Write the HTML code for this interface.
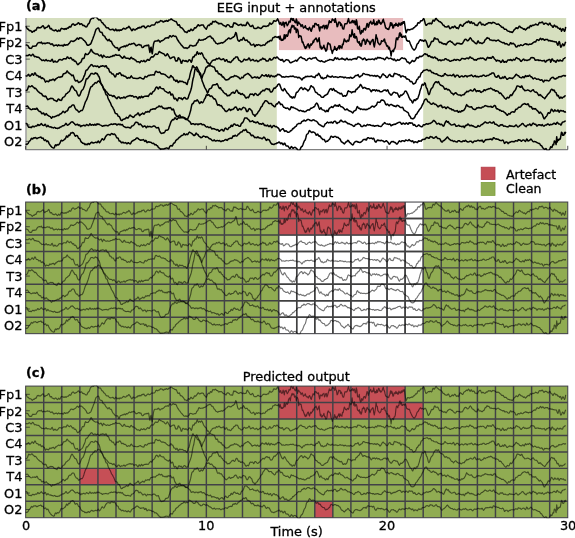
<!DOCTYPE html>
<html lang="en"><head><meta charset="utf-8"><title>EEG artefact detection figure</title>
<style>html,body{margin:0;padding:0;background:#fff}body{width:575px;height:538px;overflow:hidden}svg{display:block}text{stroke:#000;stroke-width:.3px}</style>
</head><body>
<svg width="575" height="538" viewBox="0 0 575 538" font-family="'DejaVu Sans','Liberation Sans',sans-serif" font-size="12.9px" fill="#000">
<rect width="575" height="538" fill="#fff"/>
<defs>
<clipPath id="cp"><rect x="25.15" y="-0.6" width="543.3000000000001" height="132.79999999999998"/></clipPath>
<clipPath id="cw"><rect x="279.23" y="235.55" width="143.36" height="97.50"/><rect x="405.72" y="202.05" width="16.87" height="33.90"/></clipPath>
<g id="tr" fill="none" stroke-linejoin="round">
<path d="M25.6,8.8 26.2,8.6 26.9,10.1 27.5,11.1 28.1,11.1 28.7,11.7 29.3,12.5 29.9,12.7 30.5,12.6 31.1,12.9 31.7,13.8 32.3,14.3 32.9,13.6 33.5,13.1 34.1,13.4 34.7,12.7 35.3,12.2 35.9,12.4 36.5,11.3 37.1,9.9 37.7,9.4 38.3,9.3 38.9,9.9 39.5,9.8 40.1,9.7 40.7,9.7 41.3,9.1 41.9,8.6 42.5,8.0 43.1,7.8 43.7,8.6 44.3,10.2 44.9,10.6 45.5,9.8 46.1,9.4 46.7,9.3 47.3,9.1 47.9,8.3 48.5,7.4 49.1,7.8 49.7,9.6 50.3,10.9 50.9,10.4 51.5,10.5 52.1,11.8 52.7,12.1 53.3,12.3 53.9,12.7 54.5,12.7 55.1,12.1 55.7,11.8 56.3,12.4 56.9,13.1 57.5,13.5 58.1,12.9 58.7,12.1 59.3,12.9 59.9,13.2 60.5,11.9 61.1,10.7 61.7,10.3 62.3,10.6 62.9,10.8 63.5,11.0 64.1,11.4 64.7,10.8 65.3,10.6 65.9,11.2 66.5,11.0 67.1,10.1 67.7,10.1 68.3,10.2 68.9,9.3 69.5,8.5 70.1,9.1 70.7,9.1 71.3,7.9 71.9,6.7 72.5,6.1 73.1,5.8 73.7,6.1 74.3,7.0 74.9,7.3 75.5,6.8 76.1,6.5 76.7,6.3 77.3,5.8 77.9,5.2 78.5,4.7 79.1,5.3 79.7,6.4 80.3,6.3 80.9,5.7 81.5,5.8 82.1,6.4 82.7,7.4 83.3,7.5 83.9,7.3 84.5,7.8 85.1,8.3 85.7,8.8 86.3,8.9 86.9,8.6 87.5,7.3 88.1,6.2 88.7,5.7 89.3,5.0 89.9,3.3 90.5,1.5 91.1,1.0 91.7,0.7 92.3,-0.0 92.9,0.0 93.5,0.4 94.1,-0.6 94.7,-1.3 95.3,-0.9 95.9,-0.9 96.5,-0.7 97.1,0.0 97.7,0.7 98.3,1.3 98.9,2.0 99.5,1.9 100.1,1.7 100.7,2.3 101.3,3.5 101.9,4.6 102.5,4.8 103.1,5.4 103.7,6.6 104.3,6.9 104.9,7.3 105.5,8.5 106.1,9.3 106.7,9.8 107.3,9.9 107.9,9.7 108.5,10.1 109.1,11.0 109.7,11.5 110.3,11.7 110.9,11.7 111.5,11.6 112.1,11.6 112.7,11.2 113.3,11.5 113.9,12.3 114.5,12.7 115.1,12.1 115.7,11.1 116.3,11.8 116.9,12.8 117.5,12.5 118.1,11.9 118.7,12.6 119.3,12.8 119.9,11.8 120.5,12.0 121.1,12.3 121.7,11.8 122.3,11.4 122.9,10.8 123.5,10.3 124.1,10.5 124.7,10.8 125.3,11.1 125.9,10.9 126.5,10.0 127.1,9.7 127.7,9.8 128.3,9.0 128.9,8.4 129.5,9.1 130.1,10.0 130.7,10.9 131.3,12.0 131.9,12.7 132.5,12.1 133.1,10.9 133.7,11.1 134.3,11.8 134.9,11.9 135.5,11.8 136.1,11.2 136.7,10.7 137.3,10.8 137.9,9.8 138.5,9.6 139.1,10.1 139.7,9.3 140.3,9.4 140.9,9.8 141.5,8.8 142.1,8.2 142.7,8.6 143.3,8.1 143.9,7.9 144.5,9.0 145.1,9.8 145.7,9.9 146.3,9.4 146.9,8.7 147.5,8.1 148.1,7.8 148.7,8.2 149.3,8.6 149.9,8.5 150.5,8.1 151.1,7.4 151.7,7.0 152.3,7.0 152.9,7.0 153.5,6.9 154.1,6.9 154.7,6.7 155.3,5.7 155.9,4.5 156.5,4.1 157.1,4.5 157.7,4.7 158.3,4.1 158.9,4.0 159.5,3.9 160.1,3.1 160.7,2.6 161.3,2.9 161.9,2.9 162.5,3.3 163.1,4.1 163.7,4.1 164.3,3.3 164.9,3.0 165.5,3.3 166.1,2.7 166.7,2.4 167.3,3.2 167.9,3.3 168.5,2.4 169.1,1.9 169.7,2.0 170.3,1.6 170.9,1.1 171.5,1.0 172.1,1.6 172.7,2.1 173.3,2.4 173.9,2.7 174.5,3.1 175.1,3.5 175.7,3.4 176.3,3.7 176.9,5.0 177.5,6.5 178.1,7.4 178.7,7.1 179.3,6.7 179.9,8.1 180.5,9.6 181.1,9.6 181.7,9.8 182.3,10.4 182.9,11.0 183.5,11.8 184.1,12.7 184.7,13.8 185.3,13.9 185.9,13.8 186.5,14.5 187.1,14.6 187.7,13.7 188.3,12.7 188.9,12.5 189.5,13.2 190.1,12.7 190.7,11.3 191.3,11.2 191.9,12.1 192.5,12.6 193.1,12.2 193.7,11.5 194.3,10.2 194.9,9.7 195.5,10.1 196.1,9.6 196.7,8.8 197.3,8.1 197.9,6.9 198.5,6.7 199.1,7.7 199.7,7.9 200.3,7.5 200.9,7.3 201.5,6.9 202.1,7.0 202.7,7.0 203.3,7.1 203.9,8.4 204.5,9.5 205.1,9.9 205.7,10.7 206.3,11.2 206.9,9.8 207.5,8.3 208.1,7.4 208.7,7.0 209.3,7.5 209.9,6.8 210.5,5.5 211.1,5.7 211.7,6.2 212.3,4.6 212.9,3.4 213.5,3.7 214.1,4.0 214.7,3.7 215.3,3.1 215.9,3.4 216.5,4.4 217.1,4.4 217.7,4.4 218.3,5.6 218.9,6.0 219.5,5.4 220.1,5.4 220.7,5.7 221.3,5.5 221.9,5.8 222.5,6.7 223.1,7.2 223.7,7.6 224.3,7.7 224.9,7.9 225.5,8.6 226.1,8.8 226.7,7.5 227.3,6.7 227.9,6.8 228.5,6.9 229.1,7.3 229.7,8.2 230.3,8.9 230.9,8.9 231.5,8.7 232.1,9.3 232.7,8.7 233.3,6.2 233.9,4.7 234.5,5.3 235.1,5.5 235.7,5.1 236.3,5.9 236.9,6.3 237.5,6.4 238.1,7.2 238.7,7.4 239.3,7.0 239.9,6.8 240.5,6.4 241.1,6.3 241.7,7.0 242.3,7.6 242.9,7.1 243.5,7.0 244.1,7.6 244.7,7.3 245.3,7.4 245.9,7.4 246.5,5.9 247.1,4.2 247.7,4.3 248.3,5.5 248.9,6.2 249.5,7.1 250.1,8.1 250.7,8.5 251.3,8.5 251.9,7.8 252.5,7.2 253.1,8.2 253.7,9.7 254.3,10.4 254.9,10.6 255.5,10.5 256.1,10.6 256.7,10.4 257.3,9.7 257.9,9.2 258.5,9.3 259.1,10.0 259.7,10.1 260.3,10.2 260.9,10.6 261.5,10.1 262.1,9.4 262.7,8.7 263.3,8.1 263.9,8.4 264.5,8.2 265.1,8.0 265.7,8.5 266.3,8.5 266.9,8.1 267.5,7.8 268.1,7.9 268.7,7.4 269.3,5.8 269.9,4.9 270.5,5.7 271.1,6.3 271.7,5.8 272.3,5.4 272.9,4.7 273.5,3.2 274.1,2.7 274.7,3.0 275.3,3.2 275.9,3.0 276.5,2.8 277.1,1.6 277.7,0.7 278.3,2.2 278.9,3.9 279.5,6.1 280.1,5.8 280.7,4.5 281.3,6.7 281.9,7.3 282.5,6.6 283.1,3.9 283.7,6.0 284.3,8.9 284.9,4.7 285.5,5.1 286.1,4.2 286.7,6.1 287.3,7.6 287.9,6.7 288.5,5.5 289.1,3.3 289.7,4.0 290.3,3.9 290.9,0.5 291.5,0.2 292.1,1.1 292.7,2.4 293.3,0.6 293.9,2.5 294.5,3.1 295.1,4.5 295.7,4.7 296.3,1.1 296.9,2.7 297.5,7.3 298.1,4.8 298.7,4.0 299.3,5.6 299.9,5.9 300.5,6.5 301.1,8.5 301.7,7.3 302.3,6.7 302.9,8.5 303.5,10.1 304.1,9.3 304.7,9.2 305.3,7.7 305.9,9.8 306.5,10.6 307.1,11.0 307.7,10.7 308.3,12.0 308.9,10.5 309.5,9.4 310.1,10.5 310.7,12.6 311.3,13.2 311.9,10.9 312.5,9.6 313.1,7.6 313.7,8.4 314.3,8.9 314.9,5.4 315.5,5.7 316.1,5.6 316.7,6.8 317.3,6.9 317.9,7.5 318.5,6.7 319.1,10.4 319.7,12.9 320.3,9.1 320.9,8.8 321.5,9.6 322.1,9.9 322.7,8.0 323.3,7.9 323.9,7.2 324.5,10.8 325.1,9.8 325.7,7.6 326.3,7.3 326.9,10.8 327.5,9.7 328.1,7.2 328.7,5.5 329.3,2.7 329.9,4.4 330.5,3.8 331.1,4.5 331.7,3.0 332.3,0.9 332.9,2.1 333.5,2.0 334.1,2.0 334.7,4.3 335.3,0.5 335.9,3.7 336.5,4.7 337.1,8.7 337.7,8.1 338.3,5.9 338.9,3.9 339.5,4.6 340.1,4.4 340.7,7.5 341.3,6.0 341.9,7.4 342.5,10.1 343.1,11.0 343.7,11.1 344.3,8.4 344.9,5.8 345.5,5.7 346.1,5.8 346.7,5.8 347.3,4.8 347.9,2.6 348.5,0.4 349.1,3.2 349.7,5.0 350.3,4.7 350.9,4.9 351.5,3.2 352.1,4.0 352.7,2.4 353.3,4.7 353.9,3.1 354.5,2.9 355.1,6.2 355.7,6.8 356.3,1.8 356.9,3.8 357.5,10.3 358.1,11.1 358.7,10.5 359.3,8.2 359.9,13.4 360.5,15.9 361.1,15.6 361.7,12.4 362.3,14.0 362.9,14.1 363.5,11.3 364.1,10.5 364.7,10.4 365.3,12.1 365.9,10.6 366.5,8.0 367.1,5.4 367.7,6.3 368.3,9.3 368.9,7.7 369.5,4.7 370.1,4.6 370.7,3.2 371.3,5.4 371.9,6.1 372.5,4.7 373.1,5.4 373.7,1.8 374.3,5.0 374.9,6.9 375.5,5.5 376.1,6.8 376.7,3.8 377.3,6.4 377.9,5.1 378.5,2.2 379.1,2.5 379.7,5.0 380.3,4.6 380.9,6.2 381.5,5.2 382.1,4.5 382.7,2.5 383.3,1.2 383.9,4.0 384.5,5.0 385.1,7.8 385.7,10.1 386.3,10.1 386.9,10.7 387.5,11.2 388.1,11.0 388.7,11.5 389.3,9.4 389.9,8.4 390.5,4.7 391.1,7.3 391.7,5.0 392.3,6.7 392.9,10.0 393.5,9.8 394.1,7.0 394.7,6.7 395.3,7.6 395.9,5.2 396.5,7.3 397.1,6.3 397.7,8.1 398.3,8.0 398.9,5.0 399.5,6.8 400.1,6.1 400.7,7.1 401.3,4.7 401.9,6.5 402.5,5.3 403.1,3.8 403.7,5.2 404.3,3.6 404.9,7.5 405.5,11.5 406.1,14.7 406.7,13.5 407.3,11.9 407.9,11.4 408.5,11.7 409.1,12.0 409.7,11.8 410.3,11.5 410.9,11.4 411.5,11.0 412.1,11.0 412.7,11.0 413.3,10.1 413.9,9.7 414.5,9.6 415.1,8.7 415.7,7.8 416.3,7.9 416.9,7.5 417.5,5.8 418.1,4.6 418.7,4.8 419.3,5.1 419.9,4.4 420.5,3.2 421.1,2.7 421.7,2.9 422.3,2.6 422.9,1.5 423.5,0.6 424.1,1.1 424.7,3.4 425.3,5.8 425.9,7.3 426.5,7.2 427.1,6.5 427.7,6.0 428.3,5.5 428.9,5.5 429.5,5.7 430.1,5.2 430.7,5.2 431.3,5.9 431.9,5.5 432.5,3.5 433.1,2.1 433.7,2.6 434.3,3.1 434.9,2.3 435.5,0.9 436.1,0.3 436.7,1.1 437.3,2.0 437.9,2.3 438.5,2.9 439.1,3.6 439.7,3.8 440.3,3.8 440.9,4.4 441.5,4.9 442.1,5.5 442.7,6.8 443.3,7.2 443.9,7.2 444.5,8.3 445.1,8.8 445.7,8.7 446.3,9.1 446.9,9.1 447.5,8.7 448.1,7.9 448.7,8.0 449.3,9.7 449.9,10.7 450.5,10.5 451.1,10.1 451.7,9.3 452.3,8.7 452.9,9.5 453.5,9.7 454.1,8.6 454.7,8.1 455.3,8.4 455.9,9.6 456.5,10.3 457.1,9.7 457.7,10.0 458.3,10.6 458.9,9.5 459.5,7.8 460.1,6.7 460.7,6.6 461.3,7.5 461.9,7.9 462.5,8.3 463.1,7.9 463.7,6.4 464.3,5.7 464.9,5.5 465.5,5.1 466.1,4.3 466.7,4.0 467.3,4.5 467.9,3.9 468.5,3.0 469.1,3.6 469.7,4.9 470.3,5.2 470.9,3.9 471.5,3.7 472.1,5.2 472.7,5.5 473.3,5.0 473.9,5.0 474.5,5.8 475.1,7.1 475.7,7.1 476.3,6.9 476.9,7.6 477.5,7.5 478.1,6.2 478.7,5.1 479.3,4.7 479.9,4.2 480.5,4.3 481.1,5.6 481.7,6.8 482.3,6.6 482.9,6.1 483.5,6.4 484.1,7.1 484.7,7.2 485.3,7.0 485.9,6.4 486.5,5.8 487.1,6.0 487.7,5.6 488.3,4.8 488.9,4.6 489.5,4.9 490.1,4.6 490.7,4.8 491.3,5.5 491.9,5.3 492.5,4.4 493.1,4.3 493.7,4.6 494.3,4.7 494.9,5.0 495.5,5.5 496.1,5.9 496.7,6.3 497.3,6.3 497.9,6.0 498.5,6.1 499.1,6.6 499.7,7.3 500.3,7.6 500.9,8.1 501.5,9.1 502.1,9.5 502.7,9.2 503.3,9.5 503.9,10.6 504.5,11.3 505.1,11.3 505.7,11.2 506.3,11.4 506.9,12.2 507.5,12.9 508.1,13.2 508.7,13.2 509.3,13.4 509.9,13.9 510.5,13.9 511.1,13.8 511.7,14.3 512.3,14.4 512.9,13.8 513.5,12.9 514.1,11.8 514.7,11.3 515.3,10.9 515.9,10.0 516.5,9.8 517.1,10.3 517.7,10.5 518.3,9.8 518.9,8.7 519.5,8.2 520.1,8.7 520.7,9.4 521.3,9.8 521.9,9.9 522.5,10.1 523.1,10.9 523.7,11.3 524.3,10.8 524.9,11.2 525.5,12.0 526.1,11.5 526.7,10.7 527.3,10.2 527.9,9.4 528.5,9.2 529.1,9.9 529.7,9.0 530.3,7.5 530.9,8.0 531.5,8.4 532.1,7.3 532.7,7.2 533.3,7.5 533.9,7.1 534.5,7.0 535.1,6.6 535.7,6.0 536.3,6.5 536.9,6.7 537.5,7.0 538.1,7.0 538.7,5.7 539.3,4.6 539.9,4.5 540.5,4.8 541.1,4.8 541.7,4.2 542.3,4.0 542.9,4.7 543.5,6.0 544.1,6.2 544.7,5.5 545.3,5.3 545.9,5.3 546.5,5.5 547.1,5.8 547.7,6.4 548.3,6.9 548.9,6.3 549.5,5.2 550.1,5.3 550.7,6.9 551.3,7.3 551.9,7.6 552.5,8.9 553.1,9.3 553.7,8.1 554.3,7.1 554.9,7.5 555.5,8.7 556.1,8.8 556.7,8.3 557.3,9.0 557.9,10.0 558.5,10.0 559.1,10.4 559.7,11.2 560.3,10.3 560.9,11.1 561.5,13.2 562.1,12.3 562.7,10.8 563.3,11.0 563.9,12.1 564.5,13.3 565.1,12.1 565.7,8.8"/>
<path d="M25.6,26.9 26.2,27.1 26.9,27.1 27.5,27.4 28.1,27.9 28.7,29.0 29.3,30.0 29.9,30.3 30.5,30.2 31.1,30.4 31.7,30.0 32.3,28.7 32.9,28.1 33.5,28.3 34.1,28.3 34.7,28.1 35.3,28.1 35.9,28.0 36.5,27.2 37.1,26.1 37.7,25.2 38.3,24.9 38.9,24.6 39.5,24.5 40.1,24.9 40.7,24.7 41.3,24.1 41.9,25.1 42.5,25.8 43.1,25.4 43.7,25.2 44.3,25.2 44.9,25.7 45.5,25.6 46.1,25.2 46.7,25.1 47.3,24.8 47.9,25.0 48.5,25.1 49.1,24.9 49.7,25.3 50.3,26.0 50.9,26.5 51.5,26.2 52.1,25.7 52.7,26.3 53.3,27.4 53.9,27.9 54.5,27.6 55.1,27.2 55.7,27.3 56.3,27.0 56.9,27.3 57.5,27.9 58.1,27.3 58.7,26.8 59.3,27.5 59.9,27.5 60.5,27.4 61.1,27.6 61.7,27.3 62.3,27.3 62.9,28.0 63.5,27.9 64.1,26.6 64.7,26.5 65.3,27.3 65.9,27.3 66.5,26.7 67.1,26.7 67.7,27.0 68.3,26.3 68.9,25.6 69.5,25.1 70.1,24.2 70.7,23.1 71.3,22.9 71.9,23.1 72.5,23.3 73.1,23.5 73.7,23.3 74.3,22.8 74.9,22.5 75.5,22.2 76.1,21.4 76.7,20.7 77.3,20.1 77.9,20.4 78.5,21.2 79.1,20.6 79.7,19.7 80.3,20.0 80.9,20.1 81.5,20.0 82.1,20.6 82.7,21.0 83.3,21.7 83.9,22.4 84.5,22.7 85.1,23.6 85.7,24.2 86.3,25.2 86.9,26.7 87.5,27.2 88.1,27.1 88.7,27.2 89.3,26.9 89.9,26.3 90.5,26.2 91.1,25.2 91.7,23.4 92.3,22.0 92.9,20.5 93.5,18.7 94.1,17.3 94.7,15.5 95.3,13.4 95.9,11.7 96.5,10.9 97.1,10.6 97.7,10.2 98.3,10.0 98.9,10.8 99.5,12.9 100.1,13.8 100.7,14.2 101.3,14.4 101.9,14.3 102.5,15.7 103.1,17.4 103.7,17.7 104.3,17.9 104.9,18.6 105.5,19.9 106.1,20.8 106.7,21.3 107.3,22.2 107.9,22.8 108.5,22.1 109.1,21.4 109.7,22.4 110.3,23.2 110.9,23.1 111.5,23.6 112.1,25.1 112.7,26.4 113.3,27.2 113.9,27.8 114.5,28.6 115.1,29.3 115.7,29.6 116.3,29.9 116.9,29.6 117.5,29.7 118.1,30.8 118.7,32.4 119.3,32.3 119.9,30.4 120.5,29.4 121.1,29.4 121.7,29.1 122.3,28.7 122.9,28.8 123.5,28.7 124.1,27.9 124.7,28.0 125.3,28.8 125.9,28.0 126.5,27.4 127.1,27.9 127.7,27.6 128.3,26.9 128.9,26.4 129.5,26.0 130.1,26.2 130.7,26.5 131.3,26.1 131.9,25.6 132.5,25.8 133.1,25.6 133.7,25.2 134.3,25.7 134.9,26.2 135.5,27.0 136.1,27.7 136.7,27.5 137.3,27.3 137.9,27.0 138.5,26.5 139.1,26.4 139.7,27.0 140.3,27.0 140.9,26.9 141.5,28.3 142.1,29.5 142.7,29.6 143.3,29.4 143.9,28.5 144.5,27.9 145.1,28.0 145.7,27.6 146.3,27.3 146.9,27.8 147.5,27.5 148.1,27.0 148.7,27.2 149.3,31.4 149.9,34.4 150.5,30.1 151.1,29.2 151.7,33.6 152.3,35.7 152.9,30.8 153.5,26.3 154.1,24.1 154.7,23.3 155.3,23.2 155.9,23.1 156.5,23.1 157.1,23.1 157.7,22.6 158.3,22.1 158.9,22.5 159.5,23.5 160.1,24.1 160.7,23.4 161.3,22.7 161.9,22.8 162.5,22.6 163.1,22.2 163.7,21.8 164.3,21.2 164.9,20.6 165.5,20.0 166.1,20.1 166.7,20.0 167.3,19.6 167.9,20.0 168.5,20.1 169.1,18.9 169.7,17.8 170.3,17.7 170.9,18.5 171.5,19.0 172.1,18.5 172.7,17.8 173.3,17.5 173.9,18.0 174.5,18.4 175.1,18.2 175.7,18.3 176.3,19.0 176.9,20.4 177.5,21.7 178.1,22.5 178.7,23.5 179.3,24.4 179.9,25.1 180.5,25.9 181.1,26.7 181.7,27.4 182.3,28.0 182.9,28.7 183.5,29.4 184.1,30.0 184.7,30.1 185.3,30.0 185.9,29.8 186.5,30.0 187.1,30.5 187.7,30.0 188.3,29.6 188.9,29.5 189.5,28.1 190.1,27.3 190.7,27.4 191.3,27.4 191.9,27.7 192.5,28.0 193.1,28.0 193.7,27.9 194.3,27.7 194.9,27.5 195.5,27.6 196.1,27.0 196.7,25.4 197.3,24.9 197.9,24.2 198.5,22.3 199.1,21.4 199.7,22.0 200.3,22.2 200.9,22.2 201.5,22.1 202.1,21.9 202.7,22.0 203.3,21.9 203.9,21.4 204.5,21.2 205.1,21.2 205.7,20.6 206.3,20.3 206.9,19.9 207.5,19.1 208.1,18.8 208.7,18.8 209.3,18.4 209.9,18.1 210.5,18.2 211.1,19.2 211.7,20.2 212.3,20.1 212.9,20.4 213.5,21.7 214.1,22.8 214.7,23.2 215.3,24.1 215.9,25.2 216.5,25.4 217.1,25.6 217.7,26.1 218.3,25.7 218.9,25.3 219.5,25.4 220.1,25.3 220.7,25.0 221.3,24.6 221.9,24.8 222.5,25.1 223.1,24.6 223.7,24.1 224.3,23.8 224.9,23.4 225.5,22.7 226.1,22.0 226.7,21.7 227.3,21.3 227.9,20.5 228.5,20.1 229.1,20.1 229.7,20.7 230.3,20.9 230.9,20.5 231.5,20.5 232.1,19.8 232.7,19.2 233.3,19.2 233.9,18.6 234.5,18.2 235.1,16.6 235.7,14.5 236.3,15.0 236.9,18.0 237.5,20.9 238.1,22.5 238.7,23.0 239.3,23.2 239.9,22.6 240.5,21.8 241.1,21.5 241.7,22.1 242.3,22.1 242.9,20.5 243.5,19.5 244.1,20.4 244.7,21.8 245.3,22.3 245.9,22.5 246.5,22.1 247.1,22.1 247.7,23.2 248.3,24.0 248.9,24.0 249.5,24.3 250.1,25.5 250.7,26.5 251.3,27.1 251.9,27.1 252.5,26.9 253.1,26.5 253.7,26.1 254.3,27.3 254.9,28.6 255.5,28.1 256.1,26.9 256.7,26.7 257.3,27.3 257.9,26.9 258.5,26.6 259.1,26.9 259.7,26.9 260.3,27.5 260.9,27.8 261.5,27.6 262.1,27.6 262.7,27.2 263.3,26.8 263.9,27.1 264.5,27.2 265.1,26.8 265.7,25.8 266.3,25.1 266.9,25.1 267.5,24.1 268.1,23.4 268.7,23.7 269.3,23.5 269.9,22.7 270.5,22.3 271.1,22.7 271.7,22.7 272.3,21.3 272.9,19.8 273.5,19.6 274.1,19.5 274.7,18.8 275.3,18.5 275.9,19.0 276.5,19.1 277.1,19.5 277.7,19.3 278.3,18.5 278.9,19.3 279.5,21.0 280.1,18.1 280.7,21.0 281.3,22.4 281.9,21.2 282.5,22.3 283.1,21.8 283.7,20.6 284.3,16.7 284.9,20.8 285.5,19.5 286.1,16.7 286.7,17.5 287.3,18.3 287.9,17.2 288.5,13.6 289.1,12.3 289.7,11.7 290.3,14.8 290.9,10.8 291.5,9.0 292.1,7.3 292.7,8.9 293.3,7.9 293.9,7.8 294.5,11.0 295.1,10.1 295.7,9.9 296.3,14.6 296.9,11.2 297.5,11.5 298.1,13.3 298.7,19.5 299.3,17.8 299.9,17.6 300.5,18.4 301.1,18.3 301.7,21.5 302.3,24.4 302.9,24.0 303.5,26.0 304.1,27.4 304.7,29.2 305.3,30.5 305.9,28.8 306.5,29.9 307.1,27.6 307.7,26.3 308.3,25.9 308.9,28.4 309.5,29.9 310.1,27.6 310.7,26.1 311.3,27.1 311.9,25.8 312.5,25.7 313.1,23.1 313.7,24.1 314.3,21.9 314.9,21.4 315.5,20.9 316.1,20.0 316.7,21.8 317.3,23.8 317.9,23.2 318.5,21.2 319.1,19.8 319.7,25.1 320.3,29.7 320.9,28.2 321.5,30.9 322.1,30.8 322.7,29.5 323.3,29.1 323.9,27.3 324.5,30.5 325.1,30.3 325.7,33.1 326.3,32.8 326.9,31.7 327.5,26.5 328.1,24.8 328.7,25.8 329.3,26.1 329.9,26.0 330.5,28.1 331.1,31.7 331.7,32.6 332.3,35.4 332.9,33.1 333.5,31.9 334.1,31.6 334.7,28.5 335.3,31.3 335.9,30.4 336.5,32.3 337.1,31.7 337.7,29.9 338.3,29.2 338.9,27.7 339.5,30.7 340.1,27.7 340.7,29.5 341.3,29.0 341.9,30.2 342.5,26.2 343.1,26.6 343.7,23.7 344.3,20.9 344.9,22.0 345.5,23.4 346.1,23.5 346.7,23.9 347.3,22.4 347.9,22.2 348.5,23.2 349.1,21.5 349.7,16.8 350.3,17.5 350.9,18.6 351.5,17.6 352.1,11.8 352.7,16.2 353.3,16.7 353.9,19.2 354.5,15.8 355.1,20.2 355.7,18.6 356.3,18.4 356.9,20.3 357.5,24.0 358.1,24.1 358.7,25.0 359.3,23.6 359.9,27.0 360.5,25.8 361.1,28.2 361.7,26.7 362.3,22.5 362.9,22.6 363.5,21.0 364.1,22.7 364.7,22.0 365.3,26.3 365.9,25.3 366.5,23.5 367.1,21.3 367.7,22.4 368.3,23.3 368.9,23.2 369.5,24.9 370.1,26.6 370.7,24.6 371.3,23.1 371.9,22.8 372.5,21.6 373.1,21.6 373.7,26.6 374.3,28.9 374.9,25.6 375.5,22.2 376.1,16.7 376.7,20.2 377.3,20.3 377.9,24.7 378.5,25.1 379.1,26.2 379.7,26.8 380.3,26.2 380.9,25.4 381.5,22.7 382.1,23.2 382.7,23.4 383.3,23.0 383.9,21.8 384.5,21.0 385.1,24.5 385.7,24.6 386.3,26.8 386.9,28.1 387.5,27.5 388.1,28.9 388.7,30.9 389.3,29.3 389.9,31.8 390.5,33.4 391.1,37.9 391.7,33.6 392.3,32.7 392.9,32.4 393.5,33.6 394.1,31.0 394.7,30.6 395.3,29.0 395.9,22.9 396.5,19.9 397.1,20.2 397.7,21.7 398.3,19.4 398.9,19.3 399.5,15.4 400.1,14.8 400.7,18.1 401.3,16.2 401.9,19.3 402.5,19.3 403.1,18.3 403.7,18.3 404.3,19.2 404.9,18.2 405.5,17.9 406.1,20.3 406.7,22.6 407.3,22.4 407.9,23.2 408.5,23.3 409.1,22.9 409.7,24.0 410.3,25.8 410.9,27.2 411.5,28.4 412.1,29.8 412.7,30.7 413.3,31.3 413.9,31.9 414.5,31.9 415.1,31.1 415.7,30.1 416.3,28.6 416.9,26.7 417.5,25.7 418.1,25.3 418.7,24.1 419.3,23.0 419.9,22.2 420.5,21.7 421.1,22.2 421.7,22.8 422.3,22.3 422.9,22.4 423.5,23.3 424.1,23.0 424.7,22.1 425.3,22.1 425.9,22.9 426.5,24.3 427.1,26.1 427.7,28.1 428.3,29.3 428.9,28.9 429.5,27.8 430.1,26.9 430.7,25.5 431.3,23.8 431.9,23.3 432.5,23.5 433.1,23.3 433.7,22.2 434.3,20.2 434.9,19.8 435.5,20.9 436.1,21.1 436.7,21.1 437.3,20.9 437.9,21.1 438.5,22.5 439.1,23.7 439.7,24.5 440.3,24.4 440.9,24.1 441.5,24.9 442.1,25.5 442.7,25.3 443.3,25.8 443.9,26.2 444.5,25.7 445.1,25.8 445.7,26.6 446.3,26.7 446.9,25.7 447.5,24.7 448.1,24.2 448.7,23.6 449.3,23.3 449.9,23.1 450.5,23.1 451.1,23.9 451.7,24.3 452.3,24.2 452.9,25.1 453.5,25.9 454.1,26.2 454.7,26.9 455.3,27.1 455.9,26.5 456.5,25.5 457.1,25.1 457.7,25.4 458.3,25.5 458.9,25.2 459.5,25.4 460.1,26.0 460.7,26.0 461.3,25.7 461.9,26.0 462.5,25.5 463.1,24.4 463.7,23.4 464.3,22.3 464.9,21.5 465.5,21.3 466.1,21.4 466.7,21.9 467.3,22.7 467.9,22.8 468.5,22.2 469.1,21.5 469.7,20.4 470.3,19.7 470.9,20.4 471.5,21.4 472.1,22.5 472.7,23.1 473.3,23.1 473.9,23.8 474.5,24.6 475.1,24.9 475.7,25.4 476.3,25.8 476.9,25.5 477.5,23.8 478.1,22.8 478.7,23.8 479.3,24.9 479.9,24.9 480.5,24.8 481.1,25.0 481.7,25.5 482.3,25.6 482.9,24.9 483.5,24.5 484.1,24.2 484.7,22.7 485.3,21.5 485.9,21.5 486.5,20.4 487.1,19.6 487.7,20.2 488.3,20.2 488.9,20.2 489.5,21.2 490.1,22.0 490.7,21.9 491.3,22.0 491.9,22.4 492.5,22.4 493.1,22.3 493.7,22.5 494.3,22.4 494.9,22.2 495.5,22.8 496.1,23.1 496.7,22.6 497.3,22.3 497.9,22.2 498.5,22.1 499.1,22.7 499.7,23.3 500.3,23.4 500.9,23.8 501.5,24.2 502.1,24.4 502.7,24.8 503.3,24.8 503.9,24.5 504.5,25.4 505.1,26.0 505.7,25.7 506.3,25.6 506.9,25.8 507.5,26.3 508.1,26.9 508.7,27.1 509.3,26.9 509.9,25.8 510.5,24.7 511.1,25.0 511.7,25.9 512.3,25.8 512.9,25.2 513.5,25.5 514.1,26.1 514.7,26.4 515.3,27.6 515.9,28.8 516.5,28.9 517.1,28.8 517.7,28.0 518.3,27.4 518.9,27.7 519.5,27.9 520.1,27.3 520.7,26.8 521.3,27.0 521.9,27.4 522.5,27.6 523.1,27.4 523.7,26.6 524.3,26.3 524.9,26.2 525.5,25.7 526.1,25.8 526.7,26.4 527.3,26.3 527.9,26.5 528.5,26.8 529.1,26.4 529.7,26.1 530.3,26.2 530.9,26.2 531.5,26.1 532.1,25.7 532.7,25.1 533.3,24.5 533.9,24.1 534.5,23.8 535.1,24.0 535.7,23.8 536.3,22.6 536.9,21.8 537.5,21.7 538.1,22.1 538.7,22.4 539.3,21.9 539.9,21.0 540.5,20.3 541.1,21.0 541.7,21.7 542.3,21.1 542.9,20.7 543.5,21.3 544.1,22.0 544.7,22.2 545.3,21.6 545.9,21.3 546.5,21.6 547.1,21.4 547.7,21.5 548.3,22.6 548.9,23.0 549.5,22.5 550.1,22.4 550.7,23.1 551.3,23.2 551.9,22.8 552.5,23.2 553.1,23.6 553.7,23.5 554.3,23.6 554.9,23.9 555.5,23.9 556.1,23.7 556.7,24.6 557.3,26.4 557.9,27.3 558.5,25.6 559.1,23.4 559.7,24.6 560.3,27.6 560.9,29.1 561.5,28.5 562.1,26.8 562.7,25.9 563.3,26.6 563.9,27.8 564.5,27.1 565.1,25.1 565.7,23.7"/>
<path d="M25.6,37.5 26.2,37.7 26.9,37.4 27.5,37.7 28.1,37.6 28.7,37.0 29.3,36.6 29.9,36.9 30.5,37.6 31.1,37.8 31.7,37.4 32.3,36.6 32.9,36.2 33.5,36.9 34.1,38.1 34.7,38.7 35.3,38.6 35.9,38.5 36.5,39.0 37.1,39.2 37.7,39.1 38.3,39.3 38.9,39.5 39.5,40.1 40.1,40.9 40.7,41.2 41.3,41.8 41.9,42.5 42.5,42.4 43.1,42.1 43.7,42.1 44.3,42.6 44.9,42.9 45.5,42.1 46.1,41.6 46.7,42.5 47.3,42.9 47.9,42.5 48.5,42.6 49.1,42.8 49.7,42.9 50.3,43.2 50.9,43.1 51.5,41.9 52.1,41.2 52.7,42.4 53.3,44.0 53.9,44.2 54.5,43.3 55.1,43.1 55.7,43.8 56.3,44.0 56.9,44.0 57.5,43.8 58.1,43.0 58.7,42.1 59.3,41.7 59.9,41.5 60.5,41.6 61.1,41.9 61.7,42.0 62.3,41.9 62.9,41.4 63.5,40.8 64.1,40.7 64.7,40.7 65.3,40.7 65.9,41.0 66.5,40.4 67.1,39.0 67.7,38.9 68.3,39.7 68.9,40.4 69.5,40.6 70.1,39.9 70.7,39.6 71.3,40.2 71.9,41.1 72.5,42.0 73.1,41.6 73.7,41.7 74.3,43.1 74.9,43.4 75.5,43.1 76.1,43.9 76.7,45.1 77.3,46.2 77.9,46.7 78.5,46.3 79.1,45.5 79.7,44.9 80.3,44.6 80.9,44.2 81.5,42.9 82.1,41.0 82.7,40.4 83.3,40.7 83.9,40.4 84.5,38.7 85.1,36.2 85.7,35.6 86.3,36.4 86.9,36.4 87.5,36.4 88.1,36.3 88.7,35.3 89.3,34.8 89.9,34.0 90.5,32.5 91.1,31.4 91.7,32.1 92.3,33.6 92.9,34.1 93.5,34.6 94.1,35.1 94.7,35.4 95.3,35.9 95.9,36.1 96.5,35.9 97.1,35.8 97.7,36.1 98.3,36.8 98.9,37.5 99.5,37.9 100.1,37.7 100.7,37.0 101.3,37.1 101.9,38.7 102.5,39.6 103.1,38.1 103.7,37.3 104.3,38.0 104.9,38.5 105.5,38.9 106.1,39.2 106.7,39.2 107.3,38.8 107.9,38.9 108.5,39.2 109.1,39.2 109.7,39.2 110.3,38.8 110.9,38.4 111.5,38.4 112.1,38.4 112.7,37.7 113.3,37.4 113.9,37.9 114.5,37.7 115.1,36.9 115.7,36.5 116.3,36.8 116.9,37.3 117.5,37.3 118.1,37.2 118.7,37.2 119.3,37.1 119.9,37.6 120.5,38.3 121.1,38.8 121.7,39.6 122.3,40.3 122.9,40.1 123.5,39.1 124.1,38.2 124.7,38.7 125.3,39.8 125.9,40.1 126.5,40.2 127.1,40.2 127.7,40.3 128.3,40.3 128.9,40.7 129.5,41.2 130.1,40.8 130.7,39.7 131.3,39.3 131.9,40.1 132.5,40.7 133.1,40.7 133.7,40.8 134.3,41.6 134.9,42.0 135.5,42.0 136.1,42.8 136.7,43.7 137.3,43.8 137.9,43.7 138.5,43.7 139.1,44.0 139.7,44.6 140.3,44.1 140.9,43.0 141.5,42.8 142.1,43.2 142.7,43.5 143.3,43.1 143.9,42.4 144.5,43.3 145.1,43.8 145.7,43.3 146.3,43.0 146.9,42.2 147.5,41.5 148.1,41.6 148.7,42.3 149.3,42.3 149.9,41.3 150.5,40.0 151.1,39.3 151.7,38.8 152.3,38.8 152.9,39.1 153.5,38.7 154.1,37.7 154.7,36.9 155.3,36.1 155.9,35.8 156.5,36.3 157.1,36.4 157.7,36.2 158.3,35.3 158.9,33.8 159.5,33.5 160.1,34.2 160.7,34.6 161.3,34.7 161.9,35.0 162.5,35.5 163.1,35.6 163.7,35.8 164.3,36.4 164.9,37.3 165.5,37.8 166.1,37.6 166.7,36.6 167.3,35.7 167.9,36.4 168.5,37.6 169.1,38.5 169.7,39.6 170.3,40.5 170.9,40.3 171.5,39.9 172.1,39.4 172.7,39.2 173.3,39.0 173.9,39.0 174.5,39.2 175.1,41.2 175.7,42.9 176.3,42.7 176.9,43.1 177.5,42.4 178.1,39.9 178.7,39.7 179.3,41.1 179.9,41.3 180.5,42.7 181.1,45.1 181.7,45.2 182.3,43.3 182.9,42.2 183.5,42.6 184.1,42.8 184.7,43.2 185.3,43.2 185.9,42.5 186.5,43.1 187.1,43.7 187.7,43.7 188.3,43.0 188.9,41.9 189.5,41.8 190.1,42.1 190.7,43.2 191.3,44.3 191.9,43.0 192.5,40.2 193.1,38.7 193.7,39.1 194.3,38.6 194.9,36.9 195.5,37.0 196.1,37.1 196.7,34.9 197.3,33.7 197.9,35.4 198.5,36.2 199.1,35.2 199.7,35.3 200.3,36.1 200.9,35.6 201.5,34.8 202.1,35.3 202.7,36.6 203.3,38.2 203.9,39.5 204.5,40.1 205.1,41.0 205.7,41.4 206.3,42.0 206.9,43.9 207.5,45.0 208.1,44.8 208.7,45.3 209.3,46.6 209.9,46.8 210.5,45.3 211.1,44.3 211.7,43.7 212.3,42.7 212.9,42.3 213.5,42.2 214.1,41.8 214.7,41.9 215.3,42.0 215.9,41.3 216.5,40.5 217.1,40.8 217.7,41.0 218.3,40.6 218.9,40.0 219.5,40.2 220.1,41.2 220.7,41.6 221.3,41.5 221.9,41.7 222.5,41.3 223.1,40.7 223.7,40.9 224.3,42.0 224.9,43.2 225.5,43.0 226.1,41.7 226.7,41.7 227.3,42.9 227.9,43.9 228.5,43.9 229.1,43.6 229.7,44.2 230.3,44.5 230.9,44.3 231.5,43.6 232.1,42.5 232.7,42.3 233.3,41.7 233.9,40.4 234.5,40.4 235.1,40.0 235.7,38.9 236.3,39.1 236.9,39.0 237.5,39.1 238.1,40.4 238.7,41.9 239.3,42.4 239.9,42.6 240.5,43.3 241.1,43.9 241.7,43.8 242.3,43.5 242.9,43.1 243.5,42.1 244.1,41.3 244.7,41.2 245.3,41.8 245.9,42.2 246.5,41.8 247.1,41.6 247.7,41.7 248.3,40.9 248.9,40.0 249.5,40.3 250.1,41.9 250.7,42.7 251.3,42.3 251.9,42.1 252.5,41.6 253.1,41.5 253.7,42.2 254.3,42.9 254.9,43.1 255.5,42.9 256.1,42.3 256.7,42.3 257.3,43.2 257.9,43.7 258.5,43.3 259.1,42.9 259.7,42.5 260.3,41.7 260.9,41.6 261.5,41.8 262.1,41.0 262.7,40.1 263.3,40.5 263.9,41.3 264.5,41.1 265.1,41.1 265.7,42.1 266.3,43.1 266.9,42.9 267.5,42.9 268.1,42.9 268.7,42.2 269.3,41.1 269.9,40.5 270.5,41.4 271.1,42.2 271.7,41.9 272.3,41.6 272.9,41.0 273.5,40.1 274.1,39.4 274.7,39.4 275.3,40.1 275.9,40.2 276.5,39.2 277.1,38.9 277.7,39.6 278.3,40.2 278.9,41.0 279.5,41.5 280.1,41.5 280.7,42.2 281.3,42.3 281.9,41.5 282.5,41.5 283.1,43.0 283.7,43.8 284.3,43.4 284.9,43.0 285.5,42.3 286.1,41.7 286.7,41.8 287.3,41.9 287.9,41.9 288.5,42.3 289.1,43.0 289.7,44.1 290.3,44.7 290.9,44.7 291.5,44.6 292.1,44.2 292.7,43.8 293.3,43.6 293.9,43.3 294.5,43.1 295.1,42.7 295.7,42.2 296.3,42.6 296.9,43.1 297.5,42.4 298.1,41.3 298.7,40.7 299.3,40.0 299.9,39.6 300.5,39.2 301.1,38.9 301.7,39.6 302.3,40.3 302.9,40.4 303.5,40.5 304.1,40.7 304.7,40.8 305.3,41.7 305.9,42.3 306.5,42.4 307.1,42.1 307.7,41.2 308.3,40.7 308.9,40.4 309.5,40.0 310.1,40.4 310.7,40.9 311.3,41.2 311.9,40.9 312.5,40.3 313.1,40.1 313.7,40.0 314.3,39.9 314.9,39.8 315.5,39.4 316.1,39.9 316.7,40.9 317.3,41.6 317.9,42.1 318.5,42.5 319.1,42.9 319.7,43.0 320.3,43.5 320.9,43.2 321.5,42.7 322.1,43.2 322.7,43.6 323.3,43.8 323.9,43.9 324.5,44.2 325.1,43.8 325.7,43.1 326.3,43.2 326.9,42.9 327.5,42.5 328.1,42.3 328.7,42.2 329.3,41.9 329.9,41.4 330.5,41.6 331.1,41.8 331.7,41.7 332.3,42.0 332.9,42.4 333.5,42.3 334.1,41.4 334.7,40.1 335.3,39.6 335.9,40.4 336.5,41.0 337.1,40.2 337.7,40.0 338.3,41.0 338.9,41.4 339.5,41.4 340.1,41.1 340.7,41.1 341.3,41.0 341.9,40.1 342.5,40.4 343.1,41.2 343.7,41.1 344.3,41.3 344.9,42.0 345.5,41.8 346.1,40.8 346.7,40.2 347.3,40.7 347.9,41.5 348.5,41.8 349.1,41.7 349.7,41.3 350.3,41.3 350.9,41.7 351.5,41.9 352.1,41.4 352.7,41.1 353.3,41.0 353.9,40.8 354.5,40.7 355.1,40.5 355.7,40.6 356.3,41.2 356.9,40.8 357.5,39.4 358.1,38.9 358.7,39.1 359.3,39.1 359.9,39.3 360.5,39.9 361.1,40.0 361.7,40.4 362.3,41.4 362.9,41.4 363.5,40.9 364.1,40.3 364.7,40.0 365.3,40.7 365.9,41.8 366.5,42.2 367.1,41.7 367.7,41.6 368.3,41.5 368.9,41.1 369.5,41.3 370.1,41.6 370.7,41.3 371.3,41.3 371.9,41.2 372.5,40.9 373.1,41.1 373.7,41.5 374.3,41.8 374.9,41.1 375.5,40.2 376.1,40.7 376.7,41.0 377.3,39.9 377.9,39.2 378.5,39.9 379.1,40.1 379.7,39.6 380.3,39.7 380.9,40.0 381.5,40.2 382.1,40.6 382.7,40.6 383.3,40.6 383.9,41.2 384.5,41.8 385.1,41.4 385.7,40.5 386.3,39.6 386.9,39.2 387.5,39.4 388.1,40.3 388.7,40.7 389.3,40.6 389.9,40.4 390.5,40.0 391.1,40.4 391.7,41.0 392.3,41.1 392.9,41.7 393.5,42.0 394.1,41.0 394.7,41.3 395.3,42.5 395.9,42.8 396.5,42.7 397.1,42.2 397.7,41.6 398.3,42.1 398.9,42.3 399.5,41.9 400.1,41.4 400.7,40.8 401.3,40.2 401.9,39.8 402.5,39.9 403.1,40.3 403.7,40.6 404.3,40.3 404.9,40.4 405.5,41.2 406.1,41.7 406.7,43.1 407.3,44.2 407.9,43.9 408.5,44.1 409.1,45.1 409.7,45.6 410.3,44.8 410.9,44.2 411.5,43.6 412.1,42.5 412.7,42.4 413.3,43.3 413.9,43.6 414.5,43.1 415.1,42.6 415.7,41.6 416.3,40.1 416.9,39.5 417.5,39.8 418.1,40.1 418.7,39.6 419.3,38.7 419.9,38.2 420.5,38.5 421.1,38.7 421.7,38.2 422.3,38.0 422.9,37.7 423.5,36.8 424.1,36.3 424.7,35.7 425.3,35.7 425.9,36.6 426.5,36.5 427.1,36.3 427.7,37.5 428.3,38.4 428.9,37.7 429.5,37.7 430.1,38.4 430.7,38.9 431.3,39.4 431.9,38.9 432.5,39.2 433.1,40.1 433.7,39.8 434.3,39.2 434.9,39.1 435.5,39.8 436.1,40.6 436.7,40.4 437.3,40.7 437.9,41.9 438.5,42.5 439.1,42.2 439.7,41.8 440.3,41.9 440.9,42.7 441.5,42.6 442.1,42.0 442.7,41.9 443.3,42.1 443.9,42.1 444.5,41.5 445.1,40.8 445.7,40.7 446.3,41.1 446.9,41.6 447.5,42.0 448.1,42.1 448.7,42.1 449.3,42.7 449.9,43.3 450.5,43.3 451.1,43.0 451.7,42.7 452.3,42.4 452.9,42.5 453.5,42.3 454.1,41.6 454.7,41.5 455.3,41.8 455.9,42.3 456.5,42.0 457.1,41.4 457.7,41.6 458.3,41.8 458.9,42.0 459.5,42.6 460.1,42.4 460.7,41.7 461.3,41.0 461.9,40.4 462.5,40.5 463.1,40.6 463.7,40.8 464.3,40.9 464.9,40.8 465.5,40.9 466.1,40.4 466.7,40.0 467.3,40.1 467.9,40.5 468.5,40.7 469.1,40.1 469.7,39.0 470.3,38.9 470.9,39.6 471.5,40.2 472.1,40.2 472.7,40.3 473.3,41.1 473.9,41.9 474.5,42.1 475.1,41.6 475.7,41.9 476.3,42.3 476.9,41.6 477.5,41.0 478.1,40.7 478.7,40.6 479.3,40.8 479.9,40.2 480.5,40.1 481.1,40.6 481.7,40.3 482.3,40.1 482.9,40.2 483.5,40.3 484.1,40.8 484.7,41.3 485.3,42.0 485.9,42.1 486.5,41.0 487.1,39.9 487.7,39.3 488.3,39.7 488.9,40.3 489.5,39.8 490.1,39.6 490.7,40.2 491.3,40.3 491.9,39.5 492.5,38.6 493.1,38.7 493.7,39.7 494.3,40.7 494.9,41.3 495.5,41.7 496.1,42.8 496.7,43.2 497.3,42.2 497.9,42.2 498.5,42.8 499.1,42.6 499.7,42.8 500.3,43.8 500.9,44.5 501.5,44.1 502.1,42.9 502.7,42.0 503.3,42.8 503.9,44.2 504.5,44.3 505.1,43.4 505.7,43.6 506.3,44.1 506.9,43.5 507.5,42.3 508.1,42.0 508.7,42.0 509.3,42.1 509.9,42.2 510.5,41.5 511.1,41.7 511.7,42.5 512.3,42.6 512.9,42.0 513.5,41.3 514.1,41.7 514.7,42.0 515.3,41.1 515.9,40.0 516.5,39.6 517.1,40.0 517.7,40.6 518.3,40.7 518.9,40.9 519.5,41.4 520.1,42.1 520.7,43.2 521.3,43.4 521.9,42.6 522.5,42.0 523.1,41.4 523.7,41.1 524.3,41.8 524.9,42.4 525.5,42.0 526.1,42.0 526.7,42.5 527.3,42.4 527.9,42.0 528.5,42.0 529.1,41.8 529.7,41.5 530.3,40.7 530.9,39.8 531.5,39.6 532.1,39.7 532.7,39.6 533.3,39.8 533.9,40.0 534.5,40.7 535.1,42.1 535.7,42.3 536.3,41.9 536.9,42.1 537.5,41.9 538.1,41.8 538.7,42.4 539.3,42.5 539.9,42.2 540.5,42.3 541.1,42.6 541.7,42.8 542.3,42.8 542.9,42.9 543.5,42.7 544.1,42.3 544.7,43.0 545.3,44.0 545.9,43.9 546.5,42.9 547.1,42.3 547.7,42.5 548.3,42.0 548.9,41.5 549.5,41.4 550.1,41.8 550.7,44.2 551.3,43.2 551.9,41.0 552.5,41.0 553.1,42.1 553.7,43.1 554.3,42.9 554.9,42.8 555.5,44.1 556.1,44.3 556.7,42.9 557.3,42.0 557.9,42.2 558.5,42.9 559.1,43.0 559.7,42.2 560.3,42.1 560.9,42.7 561.5,42.7 562.1,43.1 562.7,42.6 563.3,40.9 563.9,40.6 564.5,40.4 565.1,39.6 565.7,39.8"/>
<path d="M25.6,58.1 26.2,58.1 26.9,58.0 27.5,57.6 28.1,56.7 28.7,56.4 29.3,57.6 29.9,58.1 30.5,57.6 31.1,57.1 31.7,56.2 32.3,55.7 32.9,56.6 33.5,57.3 34.1,56.3 34.7,54.9 35.3,55.0 35.9,56.4 36.5,57.4 37.1,57.5 37.7,57.6 38.3,58.1 38.9,59.0 39.5,58.9 40.1,58.3 40.7,59.2 41.3,60.5 41.9,60.3 42.5,59.7 43.1,60.6 43.7,61.0 44.3,61.2 44.9,63.0 45.5,64.1 46.1,63.4 46.7,63.0 47.3,63.3 47.9,63.5 48.5,63.7 49.1,63.1 49.7,61.9 50.3,62.0 50.9,62.5 51.5,61.9 52.1,61.6 52.7,61.7 53.3,61.2 53.9,61.6 54.5,62.6 55.1,61.9 55.7,60.8 56.3,60.8 56.9,60.2 57.5,59.6 58.1,59.4 58.7,59.0 59.3,59.1 59.9,59.5 60.5,59.0 61.1,58.7 61.7,58.9 62.3,58.4 62.9,56.9 63.5,55.7 64.1,55.7 64.7,55.6 65.3,55.1 65.9,55.1 66.5,54.0 67.1,52.9 67.7,53.7 68.3,54.7 68.9,54.9 69.5,55.5 70.1,56.0 70.7,56.2 71.3,57.0 71.9,57.7 72.5,57.3 73.1,57.1 73.7,58.7 74.3,60.6 74.9,62.0 75.5,62.9 76.1,63.0 76.7,62.6 77.3,62.3 77.9,63.3 78.5,64.5 79.1,64.4 79.7,64.0 80.3,63.8 80.9,63.3 81.5,62.8 82.1,62.2 82.7,61.5 83.3,60.1 83.9,58.5 84.5,57.5 85.1,55.8 85.7,53.1 86.3,52.1 86.9,52.1 87.5,51.6 88.1,50.7 88.7,49.7 89.3,48.8 89.9,48.2 90.5,47.4 91.1,46.8 91.7,46.6 92.3,47.1 92.9,48.0 93.5,48.5 94.1,48.0 94.7,47.9 95.3,48.0 95.9,48.3 96.5,48.6 97.1,48.2 97.7,48.0 98.3,48.7 98.9,49.4 99.5,49.3 100.1,48.6 100.7,48.1 101.3,48.3 101.9,48.0 102.5,47.8 103.1,48.0 103.7,47.9 104.3,48.5 104.9,48.9 105.5,47.9 106.1,47.7 106.7,48.9 107.3,50.1 107.9,50.5 108.5,50.5 109.1,52.2 109.7,54.1 110.3,54.1 110.9,54.3 111.5,55.3 112.1,56.0 112.7,55.9 113.3,56.0 113.9,57.2 114.5,58.1 115.1,59.0 115.7,58.6 116.3,56.6 116.9,55.7 117.5,56.1 118.1,56.3 118.7,55.5 119.3,54.9 119.9,54.8 120.5,55.4 121.1,56.5 121.7,57.5 122.3,57.5 122.9,57.0 123.5,57.5 124.1,58.3 124.7,58.3 125.3,58.3 125.9,58.8 126.5,59.5 127.1,60.4 127.7,60.2 128.3,59.6 128.9,59.7 129.5,60.1 130.1,59.9 130.7,58.6 131.3,57.9 131.9,58.8 132.5,59.7 133.1,60.0 133.7,60.2 134.3,60.3 134.9,60.2 135.5,60.4 136.1,60.6 136.7,60.6 137.3,60.5 137.9,60.5 138.5,60.3 139.1,60.0 139.7,59.6 140.3,59.5 140.9,59.9 141.5,60.4 142.1,60.7 142.7,60.7 143.3,61.0 143.9,60.8 144.5,59.5 145.1,58.4 145.7,58.7 146.3,59.1 146.9,58.8 147.5,58.4 148.1,57.6 148.7,57.3 149.3,57.5 149.9,57.3 150.5,57.0 151.1,57.0 151.7,57.0 152.3,56.9 152.9,56.7 153.5,56.7 154.1,57.1 154.7,55.8 155.3,53.9 155.9,53.2 156.5,53.5 157.1,54.0 157.7,54.3 158.3,54.5 158.9,54.1 159.5,53.9 160.1,54.5 160.7,55.3 161.3,55.8 161.9,56.0 162.5,56.0 163.1,55.8 163.7,56.1 164.3,56.5 164.9,56.5 165.5,56.8 166.1,57.7 166.7,58.1 167.3,58.4 167.9,59.2 168.5,59.5 169.1,59.7 169.7,59.6 170.3,58.2 170.9,57.5 171.5,58.3 172.1,59.0 172.7,59.0 173.3,60.1 173.9,61.9 174.5,61.9 175.1,62.2 175.7,63.4 176.3,63.2 176.9,62.1 177.5,63.0 178.1,64.6 178.7,64.4 179.3,63.3 179.9,62.9 180.5,63.5 181.1,63.6 181.7,63.3 182.3,63.3 182.9,63.7 183.5,64.2 184.1,64.6 184.7,64.4 185.3,64.4 185.9,65.1 186.5,66.1 187.1,66.5 187.7,64.3 188.3,61.9 188.9,61.5 189.5,59.4 190.1,56.4 190.7,53.8 191.3,52.2 191.9,50.5 192.5,48.2 193.1,47.7 193.7,49.0 194.3,49.7 194.9,49.5 195.5,50.0 196.1,49.8 196.7,48.8 197.3,49.8 197.9,51.5 198.5,52.2 199.1,54.3 199.7,56.7 200.3,57.2 200.9,58.6 201.5,60.4 202.1,59.9 202.7,57.8 203.3,56.1 203.9,55.5 204.5,54.3 205.1,52.3 205.7,50.4 206.3,49.2 206.9,49.2 207.5,48.4 208.1,47.6 208.7,48.1 209.3,48.0 209.9,47.3 210.5,47.4 211.1,48.1 211.7,48.2 212.3,48.3 212.9,48.8 213.5,48.9 214.1,49.0 214.7,50.1 215.3,51.7 215.9,53.2 216.5,53.4 217.1,52.8 217.7,53.8 218.3,55.6 218.9,56.0 219.5,55.7 220.1,56.4 220.7,56.9 221.3,56.6 221.9,58.0 222.5,59.0 223.1,58.8 223.7,59.4 224.3,60.4 224.9,61.0 225.5,61.7 226.1,62.1 226.7,61.8 227.3,61.8 227.9,61.7 228.5,61.0 229.1,60.9 229.7,60.4 230.3,59.3 230.9,59.3 231.5,59.2 232.1,58.7 232.7,58.8 233.3,58.8 233.9,58.3 234.5,57.5 235.1,57.8 235.7,58.1 236.3,58.0 236.9,58.2 237.5,58.8 238.1,59.0 238.7,59.2 239.3,60.1 239.9,60.7 240.5,60.9 241.1,60.1 241.7,59.2 242.3,59.6 242.9,59.8 243.5,58.9 244.1,57.7 244.7,57.2 245.3,57.0 245.9,56.4 246.5,56.2 247.1,55.9 247.7,55.4 248.3,55.6 248.9,56.2 249.5,56.9 250.1,57.3 250.7,57.9 251.3,58.8 251.9,59.8 252.5,60.0 253.1,59.4 253.7,59.4 254.3,59.2 254.9,58.8 255.5,59.1 256.1,59.8 256.7,59.8 257.3,59.0 257.9,59.2 258.5,60.0 259.1,60.3 259.7,59.9 260.3,59.1 260.9,58.7 261.5,57.5 262.1,56.7 262.7,57.4 263.3,57.7 263.9,57.8 264.5,58.0 265.1,57.8 265.7,56.8 266.3,56.8 266.9,58.4 267.5,58.6 268.1,57.5 268.7,56.9 269.3,58.3 269.9,59.1 270.5,58.1 271.1,57.3 271.7,57.6 272.3,58.4 272.9,58.5 273.5,58.2 274.1,58.7 274.7,58.9 275.3,58.0 275.9,57.8 276.5,57.9 277.1,57.0 277.7,56.3 278.3,56.7 278.9,56.4 279.5,56.4 280.1,57.2 280.7,57.4 281.3,58.2 281.9,59.1 282.5,59.0 283.1,58.7 283.7,59.0 284.3,59.1 284.9,59.2 285.5,58.9 286.1,58.4 286.7,58.7 287.3,58.7 287.9,58.7 288.5,58.9 289.1,58.6 289.7,58.5 290.3,58.4 290.9,58.1 291.5,58.4 292.1,58.5 292.7,58.0 293.3,58.2 293.9,58.7 294.5,59.0 295.1,59.1 295.7,59.0 296.3,58.9 296.9,59.1 297.5,59.8 298.1,59.8 298.7,59.2 299.3,59.4 299.9,60.0 300.5,60.2 301.1,60.9 301.7,61.9 302.3,61.7 302.9,60.4 303.5,59.7 304.1,60.0 304.7,59.6 305.3,58.6 305.9,58.5 306.5,58.7 307.1,58.5 307.7,58.3 308.3,58.5 308.9,58.6 309.5,58.6 310.1,58.5 310.7,58.3 311.3,58.1 311.9,58.2 312.5,58.9 313.1,59.2 313.7,58.9 314.3,59.4 314.9,59.7 315.5,58.4 316.1,57.3 316.7,57.2 317.3,57.4 317.9,56.7 318.5,55.4 319.1,55.7 319.7,57.1 320.3,58.0 320.9,59.6 321.5,60.1 322.1,59.4 322.7,60.3 323.3,60.8 323.9,60.3 324.5,60.1 325.1,59.7 325.7,59.8 326.3,59.7 326.9,58.2 327.5,57.2 328.1,57.9 328.7,58.6 329.3,58.7 329.9,58.6 330.5,59.1 331.1,59.2 331.7,58.3 332.3,58.0 332.9,58.7 333.5,59.0 334.1,59.2 334.7,58.9 335.3,58.7 335.9,59.1 336.5,59.0 337.1,59.0 337.7,59.5 338.3,59.4 338.9,59.2 339.5,58.8 340.1,58.6 340.7,58.8 341.3,59.0 341.9,59.1 342.5,59.0 343.1,59.2 343.7,59.7 344.3,59.7 344.9,59.2 345.5,59.2 346.1,59.6 346.7,59.9 347.3,59.9 347.9,59.7 348.5,59.7 349.1,60.0 349.7,59.9 350.3,59.3 350.9,59.2 351.5,59.9 352.1,60.3 352.7,60.1 353.3,59.7 353.9,59.4 354.5,58.8 355.1,57.8 355.7,57.5 356.3,57.6 356.9,57.6 357.5,57.0 358.1,56.6 358.7,57.9 359.3,59.0 359.9,58.9 360.5,58.4 361.1,57.9 361.7,57.6 362.3,57.1 362.9,55.9 363.5,55.4 364.1,55.6 364.7,56.0 365.3,56.4 365.9,56.6 366.5,56.4 367.1,56.4 367.7,56.8 368.3,56.7 368.9,56.7 369.5,57.4 370.1,57.8 370.7,57.5 371.3,57.4 371.9,57.5 372.5,57.6 373.1,58.0 373.7,58.1 374.3,57.6 374.9,57.5 375.5,58.2 376.1,58.5 376.7,57.8 377.3,57.5 377.9,58.0 378.5,58.3 379.1,58.7 379.7,59.8 380.3,59.9 380.9,59.0 381.5,58.1 382.1,56.9 382.7,56.1 383.3,56.0 383.9,56.8 384.5,57.4 385.1,57.6 385.7,58.3 386.3,59.4 386.9,59.6 387.5,59.3 388.1,58.4 388.7,57.4 389.3,56.6 389.9,56.3 390.5,57.5 391.1,58.4 391.7,58.3 392.3,58.3 392.9,58.7 393.5,57.9 394.1,55.8 394.7,55.3 395.3,55.8 395.9,55.7 396.5,55.9 397.1,56.1 397.7,56.4 398.3,56.9 398.9,57.0 399.5,56.8 400.1,57.6 400.7,59.0 401.3,58.8 401.9,57.9 402.5,57.9 403.1,58.0 403.7,58.5 404.3,58.9 404.9,58.7 405.5,58.9 406.1,60.2 406.7,60.9 407.3,60.8 407.9,61.2 408.5,61.4 409.1,61.7 409.7,62.8 410.3,63.6 410.9,63.7 411.5,63.4 412.1,64.0 412.7,65.2 413.3,66.0 413.9,65.9 414.5,65.4 415.1,65.2 415.7,64.6 416.3,62.9 416.9,61.5 417.5,61.3 418.1,60.3 418.7,58.9 419.3,59.0 419.9,58.9 420.5,57.1 421.1,55.3 421.7,54.6 422.3,54.4 422.9,53.5 423.5,52.4 424.1,52.3 424.7,52.4 425.3,52.1 425.9,51.9 426.5,51.7 427.1,51.6 427.7,52.0 428.3,52.6 428.9,52.9 429.5,52.4 430.1,52.3 430.7,52.9 431.3,53.8 431.9,54.7 432.5,54.6 433.1,54.6 433.7,55.3 434.3,55.6 434.9,55.6 435.5,55.9 436.1,55.9 436.7,55.7 437.3,56.4 437.9,57.0 438.5,57.3 439.1,57.4 439.7,57.6 440.3,57.8 440.9,58.0 441.5,58.4 442.1,58.2 442.7,57.6 443.3,57.9 443.9,57.3 444.5,55.8 445.1,55.6 445.7,56.3 446.3,56.7 446.9,57.0 447.5,57.6 448.1,57.5 448.7,57.4 449.3,57.4 449.9,57.2 450.5,57.2 451.1,57.6 451.7,57.8 452.3,57.6 452.9,56.8 453.5,56.2 454.1,57.4 454.7,58.8 455.3,58.9 455.9,58.0 456.5,57.3 457.1,57.2 457.7,57.2 458.3,57.6 458.9,58.7 459.5,59.3 460.1,58.8 460.7,58.4 461.3,58.1 461.9,57.8 462.5,58.3 463.1,58.8 463.7,58.8 464.3,58.3 464.9,57.8 465.5,57.6 466.1,57.8 466.7,58.7 467.3,58.9 467.9,57.9 468.5,57.9 469.1,57.9 469.7,57.6 470.3,57.8 470.9,57.2 471.5,56.9 472.1,57.6 472.7,58.4 473.3,58.7 473.9,58.5 474.5,57.9 475.1,57.5 475.7,58.3 476.3,58.8 476.9,58.3 477.5,58.5 478.1,59.0 478.7,58.8 479.3,58.4 479.9,58.4 480.5,58.2 481.1,58.0 481.7,58.4 482.3,57.8 482.9,57.2 483.5,57.1 484.1,57.3 484.7,57.9 485.3,58.2 485.9,58.2 486.5,58.0 487.1,57.4 487.7,57.4 488.3,57.5 488.9,57.2 489.5,56.5 490.1,56.0 490.7,56.2 491.3,55.9 491.9,55.0 492.5,54.9 493.1,55.0 493.7,55.1 494.3,56.2 494.9,57.8 495.5,58.8 496.1,58.9 496.7,59.3 497.3,58.9 497.9,57.6 498.5,57.4 499.1,58.5 499.7,59.9 500.3,60.5 500.9,60.2 501.5,60.4 502.1,59.8 502.7,59.0 503.3,60.1 503.9,60.1 504.5,58.5 505.1,58.6 505.7,59.6 506.3,60.4 506.9,61.3 507.5,61.3 508.1,60.7 508.7,60.4 509.3,59.9 509.9,59.8 510.5,60.2 511.1,60.2 511.7,60.3 512.3,60.7 512.9,60.1 513.5,59.4 514.1,59.0 514.7,58.4 515.3,57.5 515.9,56.4 516.5,56.3 517.1,57.2 517.7,57.6 518.3,57.7 518.9,58.1 519.5,59.1 520.1,59.5 520.7,59.5 521.3,59.9 521.9,59.7 522.5,58.8 523.1,58.7 523.7,59.6 524.3,59.8 524.9,58.4 525.5,57.6 526.1,58.5 526.7,58.6 527.3,57.8 527.9,58.2 528.5,58.3 529.1,57.4 529.7,57.2 530.3,58.1 530.9,58.9 531.5,58.8 532.1,59.3 532.7,60.4 533.3,60.9 533.9,60.5 534.5,60.0 535.1,60.1 535.7,60.5 536.3,61.0 536.9,61.3 537.5,61.1 538.1,60.9 538.7,61.2 539.3,61.6 539.9,62.0 540.5,62.2 541.1,62.0 541.7,61.8 542.3,62.2 542.9,63.3 543.5,64.0 544.1,63.2 544.7,62.2 545.3,62.4 545.9,62.6 546.5,62.3 547.1,62.3 547.7,62.6 548.3,62.8 548.9,62.9 549.5,62.5 550.1,61.6 550.7,60.4 551.3,60.1 551.9,59.5 552.5,59.5 553.1,59.3 553.7,59.9 554.3,60.9 554.9,60.7 555.5,61.0 556.1,60.8 556.7,60.0 557.3,60.1 557.9,59.8 558.5,58.9 559.1,58.5 559.7,58.9 560.3,58.7 560.9,58.6 561.5,58.7 562.1,58.2 562.7,57.8 563.3,57.7 563.9,57.4 564.5,57.8 565.1,58.1 565.7,57.1"/>
<path d="M25.6,72.7 26.2,72.4 26.9,72.2 27.5,71.4 28.1,69.7 28.7,68.0 29.3,68.2 29.9,68.8 30.5,68.7 31.1,68.3 31.7,67.7 32.3,67.9 32.9,68.8 33.5,69.1 34.1,69.9 34.7,70.5 35.3,70.2 35.9,70.6 36.5,71.4 37.1,72.2 37.7,73.0 38.3,73.6 38.9,74.1 39.5,74.6 40.1,75.1 40.7,75.5 41.3,75.6 41.9,76.1 42.5,77.3 43.1,78.0 43.7,77.9 44.3,78.4 44.9,78.7 45.5,78.0 46.1,78.5 46.7,79.8 47.3,81.0 47.9,81.7 48.5,81.3 49.1,81.0 49.7,80.8 50.3,80.5 50.9,80.3 51.5,80.5 52.1,80.5 52.7,80.4 53.3,81.1 53.9,82.0 54.5,82.3 55.1,82.5 55.7,82.7 56.3,83.2 56.9,83.5 57.5,82.4 58.1,81.2 58.7,81.1 59.3,81.7 59.9,82.2 60.5,82.3 61.1,82.4 61.7,81.9 62.3,80.4 62.9,79.5 63.5,79.1 64.1,78.9 64.7,78.4 65.3,77.3 65.9,76.1 66.5,75.6 67.1,75.4 67.7,74.7 68.3,74.1 68.9,73.8 69.5,73.2 70.1,71.8 70.7,70.2 71.3,68.9 71.9,68.0 72.5,68.3 73.1,69.5 73.7,70.3 74.3,71.3 74.9,72.3 75.5,72.5 76.1,72.8 76.7,73.9 77.3,75.7 77.9,77.0 78.5,77.8 79.1,78.0 79.7,77.4 80.3,76.1 80.9,74.4 81.5,72.9 82.1,72.1 82.7,71.7 83.3,70.8 83.9,69.2 84.5,67.7 85.1,65.6 85.7,63.0 86.3,60.9 86.9,60.6 87.5,60.8 88.1,59.9 88.7,59.0 89.3,58.4 89.9,57.5 90.5,56.2 91.1,55.6 91.7,55.5 92.3,55.4 92.9,55.8 93.5,56.1 94.1,56.1 94.7,55.6 95.3,54.8 95.9,55.1 96.5,55.7 97.1,55.4 97.7,56.3 98.3,57.9 98.9,58.4 99.5,59.9 100.1,62.3 100.7,64.7 101.3,66.4 101.9,67.3 102.5,68.2 103.1,69.4 103.7,70.4 104.3,71.1 104.9,71.7 105.5,72.8 106.1,73.6 106.7,73.9 107.3,74.8 107.9,75.7 108.5,76.2 109.1,76.8 109.7,77.3 110.3,77.3 110.9,77.3 111.5,77.5 112.1,77.8 112.7,78.6 113.3,78.3 113.9,77.5 114.5,78.2 115.1,79.1 115.7,79.6 116.3,80.2 116.9,80.8 117.5,80.1 118.1,78.9 118.7,78.9 119.3,79.2 119.9,80.2 120.5,80.6 121.1,80.0 121.7,79.7 122.3,79.9 122.9,79.9 123.5,79.2 124.1,78.9 124.7,79.8 125.3,80.0 125.9,79.3 126.5,78.7 127.1,78.6 127.7,78.5 128.3,77.9 128.9,77.9 129.5,77.8 130.1,77.4 130.7,77.9 131.3,78.2 131.9,77.7 132.5,77.7 133.1,78.3 133.7,79.0 134.3,79.1 134.9,78.8 135.5,78.6 136.1,78.7 136.7,79.2 137.3,80.1 137.9,80.9 138.5,80.1 139.1,78.7 139.7,79.0 140.3,80.0 140.9,79.4 141.5,78.2 142.1,78.8 142.7,79.7 143.3,79.2 143.9,78.7 144.5,78.4 145.1,78.1 145.7,78.3 146.3,78.3 146.9,78.0 147.5,78.1 148.1,78.4 148.7,77.7 149.3,76.7 149.9,76.0 150.5,75.2 151.1,75.6 151.7,76.1 152.3,74.8 152.9,73.7 153.5,73.5 154.1,73.0 154.7,72.2 155.3,70.9 155.9,69.6 156.5,69.1 157.1,69.2 157.7,70.2 158.3,70.9 158.9,70.3 159.5,68.9 160.1,68.8 160.7,70.0 161.3,70.4 161.9,70.6 162.5,70.9 163.1,70.7 163.7,71.0 164.3,72.2 164.9,73.0 165.5,73.4 166.1,73.7 166.7,74.1 167.3,74.5 167.9,74.8 168.5,75.0 169.1,74.4 169.7,73.8 170.3,74.9 170.9,77.0 171.5,76.9 172.1,76.0 172.7,76.4 173.3,78.0 173.9,80.2 174.5,81.0 175.1,80.2 175.7,80.4 176.3,81.3 176.9,82.5 177.5,82.7 178.1,81.0 178.7,79.8 179.3,79.7 179.9,80.3 180.5,80.5 181.1,80.0 181.7,80.9 182.3,81.6 182.9,80.9 183.5,80.3 184.1,79.6 184.7,79.4 185.3,80.0 185.9,80.8 186.5,81.0 187.1,80.9 187.7,80.8 188.3,79.4 188.9,77.3 189.5,75.8 190.1,74.2 190.7,72.5 191.3,70.6 191.9,67.6 192.5,63.6 193.1,60.5 193.7,58.7 194.3,55.3 194.9,51.7 195.5,50.8 196.1,51.0 196.7,51.8 197.3,53.2 197.9,53.7 198.5,53.6 199.1,54.1 199.7,54.7 200.3,55.1 200.9,56.8 201.5,60.2 202.1,62.9 202.7,64.2 203.3,65.7 203.9,67.4 204.5,68.9 205.1,70.1 205.7,71.1 206.3,72.1 206.9,73.8 207.5,75.1 208.1,74.3 208.7,72.3 209.3,71.0 209.9,70.8 210.5,70.4 211.1,70.2 211.7,69.5 212.3,67.8 212.9,67.1 213.5,67.0 214.1,66.7 214.7,66.7 215.3,66.8 215.9,66.6 216.5,66.0 217.1,65.7 217.7,66.8 218.3,68.2 218.9,69.6 219.5,70.5 220.1,69.8 220.7,70.0 221.3,71.7 221.9,72.1 222.5,72.4 223.1,73.8 223.7,74.5 224.3,74.9 224.9,75.6 225.5,76.0 226.1,75.8 226.7,76.8 227.3,77.9 227.9,77.6 228.5,77.5 229.1,77.7 229.7,77.2 230.3,76.7 230.9,75.9 231.5,75.0 232.1,74.8 232.7,74.3 233.3,74.1 233.9,75.0 234.5,75.3 235.1,74.7 235.7,73.3 236.3,72.3 236.9,72.2 237.5,73.0 238.1,74.5 238.7,75.3 239.3,74.9 239.9,75.2 240.5,76.3 241.1,76.4 241.7,75.9 242.3,75.6 242.9,76.2 243.5,76.9 244.1,77.0 244.7,77.9 245.3,79.3 245.9,80.0 246.5,80.0 247.1,79.3 247.7,79.2 248.3,79.7 248.9,78.9 249.5,77.3 250.1,76.2 250.7,76.0 251.3,76.3 251.9,76.2 252.5,76.0 253.1,76.5 253.7,77.5 254.3,76.7 254.9,75.5 255.5,75.5 256.1,75.9 256.7,76.6 257.3,77.2 257.9,77.4 258.5,76.7 259.1,76.1 259.7,76.0 260.3,75.0 260.9,74.0 261.5,73.8 262.1,73.2 262.7,72.3 263.3,72.2 263.9,72.8 264.5,72.8 265.1,71.7 265.7,71.0 266.3,70.9 266.9,70.5 267.5,70.9 268.1,71.6 268.7,71.2 269.3,71.1 269.9,72.6 270.5,73.9 271.1,74.0 271.7,73.9 272.3,73.4 272.9,72.2 273.5,71.0 274.1,70.0 274.7,70.0 275.3,70.2 275.9,69.3 276.5,68.6 277.1,68.1 277.7,66.9 278.3,66.3 278.9,65.9 279.5,66.1 280.1,67.6 280.7,69.2 281.3,70.8 281.9,71.9 282.5,72.5 283.1,72.9 283.7,71.8 284.3,70.6 284.9,71.0 285.5,72.2 286.1,73.2 286.7,74.1 287.3,75.2 287.9,75.4 288.5,76.2 289.1,77.0 289.7,77.6 290.3,78.9 290.9,78.8 291.5,78.8 292.1,80.2 292.7,79.9 293.3,78.9 293.9,79.4 294.5,79.8 295.1,78.7 295.7,76.6 296.3,74.7 296.9,74.2 297.5,74.2 298.1,73.3 298.7,72.4 299.3,71.6 299.9,70.6 300.5,70.2 301.1,69.6 301.7,69.5 302.3,70.6 302.9,71.6 303.5,71.5 304.1,70.3 304.7,70.0 305.3,70.7 305.9,71.2 306.5,71.3 307.1,71.8 307.7,72.9 308.3,72.7 308.9,71.8 309.5,71.2 310.1,69.8 310.7,68.1 311.3,67.7 311.9,68.6 312.5,69.0 313.1,69.1 313.7,69.7 314.3,71.1 314.9,72.8 315.5,74.2 316.1,74.5 316.7,74.4 317.3,75.3 317.9,76.2 318.5,76.4 319.1,76.8 319.7,77.0 320.3,77.4 320.9,78.4 321.5,79.1 322.1,79.3 322.7,79.3 323.3,79.2 323.9,78.6 324.5,77.6 325.1,77.5 325.7,77.3 326.3,76.6 326.9,76.5 327.5,76.1 328.1,74.7 328.7,73.7 329.3,72.3 329.9,71.2 330.5,71.0 331.1,70.6 331.7,71.4 332.3,72.3 332.9,71.3 333.5,70.6 334.1,71.4 334.7,72.6 335.3,73.1 335.9,72.8 336.5,73.1 337.1,73.9 337.7,74.5 338.3,74.6 338.9,74.8 339.5,75.5 340.1,75.9 340.7,75.4 341.3,75.3 341.9,76.0 342.5,77.3 343.1,78.3 343.7,78.3 344.3,77.6 344.9,77.8 345.5,78.2 346.1,77.7 346.7,77.1 347.3,75.5 347.9,73.3 348.5,72.8 349.1,73.3 349.7,73.6 350.3,73.7 350.9,74.0 351.5,74.9 352.1,74.5 352.7,73.7 353.3,73.9 353.9,73.6 354.5,73.6 355.1,73.9 355.7,72.4 356.3,71.2 356.9,71.2 357.5,70.6 358.1,69.6 358.7,69.2 359.3,68.9 359.9,67.5 360.5,66.5 361.1,67.1 361.7,68.2 362.3,69.4 362.9,70.4 363.5,70.0 364.1,69.4 364.7,69.4 365.3,69.8 365.9,70.3 366.5,70.5 367.1,71.0 367.7,70.7 368.3,70.7 368.9,71.1 369.5,71.1 370.1,71.9 370.7,73.0 371.3,73.7 371.9,73.0 372.5,71.9 373.1,72.2 373.7,72.2 374.3,71.7 374.9,72.3 375.5,72.9 376.1,72.2 376.7,71.8 377.3,72.7 377.9,73.0 378.5,72.4 379.1,72.5 379.7,73.3 380.3,73.8 380.9,73.8 381.5,73.7 382.1,73.6 382.7,73.1 383.3,72.5 383.9,72.3 384.5,72.2 385.1,71.9 385.7,72.2 386.3,73.0 386.9,72.9 387.5,71.8 388.1,72.4 388.7,74.4 389.3,75.3 389.9,75.9 390.5,76.7 391.1,77.2 391.7,76.9 392.3,75.8 392.9,75.0 393.5,74.5 394.1,74.2 394.7,74.4 395.3,74.7 395.9,75.1 396.5,75.0 397.1,74.9 397.7,75.9 398.3,77.2 398.9,78.6 399.5,79.2 400.1,78.0 400.7,77.0 401.3,77.4 401.9,77.3 402.5,76.6 403.1,76.2 403.7,75.6 404.3,74.5 404.9,73.3 405.5,73.1 406.1,73.2 406.7,74.1 407.3,75.5 407.9,76.4 408.5,78.0 409.1,79.7 409.7,80.6 410.3,81.9 410.9,82.2 411.5,82.4 412.1,84.3 412.7,84.9 413.3,83.6 413.9,82.2 414.5,81.7 415.1,82.6 415.7,82.6 416.3,81.0 416.9,80.7 417.5,81.0 418.1,79.5 418.7,77.8 419.3,76.0 419.9,73.3 420.5,71.5 421.1,69.9 421.7,67.6 422.3,66.3 422.9,66.7 423.5,67.1 424.1,66.0 424.7,64.9 425.3,65.6 425.9,68.2 426.5,70.0 427.1,70.8 427.7,73.0 428.3,75.6 428.9,76.6 429.5,75.9 430.1,73.9 430.7,71.9 431.3,70.7 431.9,70.0 432.5,69.6 433.1,68.2 433.7,66.6 434.3,65.6 434.9,64.7 435.5,64.1 436.1,63.7 436.7,64.1 437.3,64.7 437.9,64.0 438.5,63.6 439.1,64.9 439.7,66.1 440.3,66.9 440.9,67.3 441.5,67.5 442.1,67.8 442.7,68.0 443.3,68.7 443.9,69.7 444.5,70.8 445.1,71.3 445.7,70.7 446.3,70.4 446.9,71.1 447.5,71.9 448.1,71.6 448.7,71.6 449.3,72.1 449.9,72.7 450.5,73.7 451.1,74.7 451.7,75.3 452.3,75.2 452.9,75.9 453.5,76.8 454.1,76.1 454.7,75.3 455.3,75.0 455.9,74.7 456.5,75.4 457.1,76.2 457.7,76.5 458.3,76.9 458.9,77.1 459.5,76.9 460.1,76.9 460.7,77.5 461.3,77.8 461.9,77.2 462.5,76.9 463.1,76.5 463.7,76.7 464.3,76.6 464.9,75.2 465.5,74.8 466.1,74.4 466.7,73.3 467.3,73.4 467.9,73.8 468.5,73.3 469.1,72.9 469.7,72.6 470.3,72.1 470.9,72.0 471.5,72.6 472.1,72.9 472.7,73.0 473.3,72.7 473.9,71.6 474.5,70.9 475.1,71.3 475.7,72.7 476.3,73.7 476.9,73.2 477.5,72.7 478.1,73.0 478.7,73.2 479.3,72.7 479.9,72.9 480.5,74.1 481.1,74.5 481.7,74.0 482.3,73.5 482.9,73.5 483.5,72.7 484.1,71.7 484.7,72.2 485.3,72.6 485.9,71.9 486.5,71.6 487.1,71.5 487.7,71.3 488.3,71.0 488.9,70.6 489.5,70.8 490.1,70.6 490.7,70.1 491.3,70.5 491.9,70.9 492.5,71.3 493.1,72.1 493.7,72.0 494.3,71.7 494.9,72.6 495.5,73.2 496.1,72.8 496.7,72.8 497.3,73.1 497.9,73.3 498.5,73.8 499.1,75.0 499.7,75.4 500.3,74.9 500.9,75.3 501.5,76.1 502.1,77.0 502.7,77.6 503.3,78.2 503.9,79.1 504.5,80.0 505.1,80.5 505.7,81.0 506.3,80.9 506.9,79.9 507.5,79.3 508.1,79.7 508.7,79.9 509.3,79.3 509.9,77.8 510.5,76.8 511.1,77.4 511.7,77.5 512.3,76.5 512.9,75.5 513.5,74.3 514.1,73.3 514.7,72.8 515.3,72.0 515.9,71.0 516.5,69.3 517.1,67.9 517.7,67.9 518.3,68.1 518.9,68.3 519.5,68.6 520.1,69.3 520.7,69.3 521.3,68.1 521.9,68.1 522.5,69.7 523.1,70.8 523.7,71.4 524.3,72.0 524.9,72.7 525.5,72.6 526.1,72.6 526.7,72.4 527.3,72.0 527.9,72.1 528.5,72.3 529.1,72.5 529.7,73.0 530.3,73.5 530.9,73.5 531.5,72.8 532.1,72.4 532.7,72.0 533.3,71.7 533.9,72.8 534.5,73.7 535.1,74.0 535.7,74.2 536.3,74.1 536.9,74.5 537.5,75.4 538.1,76.4 538.7,77.4 539.3,77.4 539.9,76.6 540.5,76.7 541.1,77.8 541.7,78.0 542.3,78.5 542.9,79.4 543.5,79.6 544.1,80.0 544.7,80.6 545.3,80.0 545.9,78.8 546.5,78.3 547.1,77.3 547.7,76.3 548.3,75.9 548.9,75.3 549.5,74.5 550.1,73.9 550.7,72.3 551.3,71.4 551.9,71.2 552.5,71.8 553.1,72.6 553.7,71.9 554.3,72.1 554.9,73.9 555.5,74.3 556.1,74.6 556.7,76.7 557.3,77.9 557.9,77.2 558.5,77.8 559.1,79.6 559.7,80.4 560.3,79.7 560.9,79.0 561.5,79.6 562.1,80.1 562.7,79.5 563.3,79.1 563.9,79.0 564.5,78.4 565.1,77.7 565.7,77.7"/>
<path d="M25.6,88.2 26.2,88.3 26.9,88.2 27.5,88.1 28.1,88.8 28.7,89.8 29.3,90.3 29.9,90.8 30.5,91.4 31.1,91.7 31.7,91.6 32.3,91.3 32.9,90.8 33.5,91.1 34.1,91.2 34.7,90.8 35.3,91.3 35.9,91.3 36.5,90.2 37.1,90.2 37.7,91.5 38.3,92.5 38.9,93.0 39.5,93.6 40.1,93.5 40.7,93.7 41.3,95.0 41.9,95.8 42.5,95.6 43.1,95.1 43.7,95.1 44.3,96.3 44.9,97.1 45.5,96.4 46.1,95.6 46.7,96.1 47.3,97.0 47.9,97.3 48.5,97.7 49.1,98.2 49.7,98.4 50.3,98.6 50.9,99.5 51.5,100.3 52.1,99.6 52.7,98.6 53.3,98.9 53.9,99.1 54.5,98.7 55.1,98.5 55.7,98.3 56.3,98.1 56.9,97.7 57.5,97.3 58.1,97.3 58.7,97.5 59.3,96.8 59.9,96.1 60.5,96.1 61.1,95.7 61.7,95.0 62.3,94.2 62.9,93.3 63.5,93.4 64.1,94.2 64.7,94.7 65.3,94.3 65.9,93.4 66.5,93.0 67.1,93.0 67.7,92.4 68.3,90.9 68.9,89.7 69.5,89.1 70.1,89.0 70.7,89.0 71.3,88.3 71.9,87.4 72.5,87.0 73.1,86.9 73.7,86.9 74.3,87.9 74.9,89.6 75.5,90.7 76.1,91.7 76.7,92.1 77.3,92.1 77.9,92.9 78.5,94.0 79.1,94.1 79.7,93.5 80.3,93.1 80.9,92.5 81.5,92.5 82.1,92.5 82.7,91.6 83.3,90.3 83.9,88.6 84.5,86.6 85.1,84.7 85.7,83.3 86.3,82.4 86.9,81.2 87.5,79.4 88.1,77.7 88.7,75.8 89.3,73.5 89.9,71.3 90.5,69.7 91.1,68.6 91.7,68.6 92.3,68.2 92.9,66.9 93.5,66.5 94.1,66.2 94.7,65.0 95.3,64.6 95.9,65.0 96.5,65.1 97.1,64.4 97.7,63.4 98.3,63.1 98.9,63.1 99.5,63.8 100.1,64.6 100.7,65.1 101.3,65.8 101.9,66.7 102.5,67.6 103.1,69.6 103.7,71.6 104.3,72.1 104.9,73.1 105.5,75.2 106.1,76.7 106.7,76.9 107.3,77.4 107.9,79.7 108.5,81.4 109.1,82.2 109.7,83.6 110.3,84.5 110.9,86.0 111.5,87.7 112.1,88.4 112.7,89.3 113.3,90.6 113.9,91.6 114.5,93.3 115.1,94.9 115.7,95.5 116.3,95.7 116.9,95.7 117.5,96.6 118.1,98.1 118.7,98.4 119.3,98.5 119.9,99.7 120.5,101.2 121.1,102.3 121.7,102.5 122.3,102.4 122.9,101.5 123.5,101.2 124.1,101.2 124.7,100.8 125.3,100.7 125.9,100.1 126.5,99.3 127.1,99.6 127.7,100.1 128.3,99.8 128.9,98.7 129.5,97.7 130.1,97.1 130.7,97.4 131.3,98.4 131.9,98.6 132.5,98.7 133.1,99.4 133.7,99.2 134.3,98.4 134.9,97.6 135.5,96.9 136.1,96.8 136.7,96.6 137.3,95.8 137.9,94.9 138.5,95.2 139.1,96.9 139.7,97.6 140.3,96.9 140.9,96.3 141.5,96.2 142.1,95.7 142.7,95.1 143.3,95.5 143.9,96.1 144.5,95.6 145.1,94.7 145.7,93.8 146.3,94.1 146.9,94.2 147.5,93.6 148.1,93.5 148.7,93.8 149.3,94.0 149.9,93.0 150.5,91.9 151.1,91.4 151.7,91.4 152.3,91.3 152.9,90.9 153.5,91.0 154.1,90.7 154.7,91.0 155.3,91.1 155.9,90.3 156.5,89.7 157.1,89.3 157.7,89.1 158.3,88.9 158.9,88.0 159.5,88.0 160.1,88.8 160.7,88.8 161.3,88.2 161.9,88.5 162.5,89.8 163.1,90.2 163.7,90.0 164.3,90.3 164.9,90.8 165.5,90.6 166.1,90.1 166.7,90.8 167.3,90.8 167.9,89.8 168.5,89.6 169.1,90.1 169.7,89.8 170.3,89.5 170.9,90.0 171.5,91.3 172.1,91.9 172.7,91.2 173.3,91.0 173.9,92.4 174.5,94.6 175.1,96.1 175.7,96.8 176.3,98.1 176.9,98.8 177.5,98.2 178.1,98.3 178.7,98.5 179.3,97.2 179.9,97.1 180.5,98.5 181.1,99.1 181.7,99.2 182.3,99.1 182.9,99.0 183.5,99.5 184.1,100.0 184.7,99.8 185.3,100.2 185.9,101.5 186.5,101.5 187.1,101.2 187.7,101.0 188.3,99.4 188.9,98.1 189.5,96.4 190.1,94.4 190.7,92.3 191.3,89.1 191.9,86.5 192.5,85.7 193.1,85.5 193.7,84.5 194.3,83.2 194.9,82.8 195.5,83.0 196.1,83.1 196.7,82.1 197.3,81.8 197.9,82.7 198.5,83.5 199.1,84.7 199.7,85.4 200.3,85.0 200.9,84.0 201.5,83.8 202.1,84.7 202.7,84.7 203.3,83.8 203.9,82.5 204.5,81.1 205.1,80.3 205.7,79.1 206.3,77.0 206.9,76.5 207.5,77.4 208.1,77.1 208.7,76.7 209.3,77.2 209.9,78.1 210.5,78.4 211.1,77.9 211.7,77.9 212.3,78.8 212.9,79.5 213.5,80.4 214.1,81.0 214.7,80.7 215.3,81.3 215.9,82.4 216.5,84.1 217.1,86.1 217.7,87.2 218.3,87.1 218.9,86.7 219.5,87.0 220.1,87.8 220.7,87.7 221.3,87.6 221.9,88.5 222.5,89.7 223.1,90.3 223.7,90.7 224.3,91.5 224.9,92.6 225.5,93.2 226.1,93.6 226.7,93.5 227.3,92.8 227.9,92.3 228.5,91.7 229.1,91.0 229.7,91.2 230.3,92.4 230.9,92.4 231.5,91.4 232.1,91.4 232.7,91.5 233.3,91.2 233.9,90.6 234.5,89.6 235.1,89.1 235.7,88.9 236.3,89.4 236.9,90.4 237.5,91.8 238.1,92.3 238.7,91.7 239.3,90.7 239.9,90.6 240.5,91.4 241.1,91.8 241.7,91.4 242.3,90.4 242.9,89.6 243.5,89.3 244.1,89.7 244.7,89.9 245.3,90.1 245.9,91.6 246.5,93.1 247.1,93.7 247.7,93.4 248.3,92.1 248.9,90.9 249.5,90.6 250.1,91.0 250.7,91.8 251.3,92.1 251.9,93.0 252.5,95.2 253.1,96.5 253.7,96.7 254.3,97.2 254.9,98.3 255.5,97.7 256.1,96.3 256.7,96.0 257.3,95.7 257.9,94.3 258.5,93.3 259.1,92.8 259.7,91.9 260.3,90.7 260.9,89.2 261.5,88.6 262.1,88.3 262.7,86.6 263.3,85.3 263.9,84.9 264.5,84.0 265.1,82.8 265.7,82.7 266.3,82.8 266.9,83.1 267.5,83.7 268.1,84.3 268.7,85.4 269.3,85.7 269.9,85.4 270.5,85.4 271.1,85.4 271.7,86.0 272.3,87.0 272.9,87.3 273.5,87.9 274.1,88.6 274.7,88.8 275.3,88.3 275.9,86.7 276.5,85.8 277.1,86.1 277.7,85.7 278.3,84.5 278.9,83.8 279.5,84.3 280.1,85.8 280.7,86.6 281.3,86.2 281.9,86.2 282.5,87.0 283.1,88.4 283.7,89.2 284.3,89.3 284.9,89.6 285.5,90.2 286.1,90.4 286.7,90.3 287.3,89.9 287.9,90.1 288.5,90.9 289.1,91.5 289.7,91.8 290.3,91.1 290.9,89.2 291.5,88.7 292.1,89.6 292.7,89.4 293.3,89.3 293.9,89.9 294.5,90.1 295.1,90.3 295.7,90.7 296.3,90.9 296.9,91.2 297.5,91.7 298.1,92.0 298.7,92.4 299.3,92.9 299.9,92.6 300.5,92.3 301.1,92.6 301.7,92.9 302.3,93.4 302.9,93.2 303.5,93.0 304.1,93.8 304.7,93.8 305.3,93.6 305.9,93.6 306.5,92.7 307.1,92.3 307.7,92.0 308.3,91.8 308.9,92.1 309.5,92.0 310.1,91.1 310.7,90.2 311.3,90.3 311.9,89.9 312.5,89.7 313.1,89.3 313.7,88.8 314.3,88.8 314.9,87.8 315.5,86.4 316.1,85.6 316.7,85.1 317.3,85.5 317.9,86.9 318.5,88.4 319.1,90.1 319.7,91.3 320.3,90.6 320.9,89.7 321.5,90.7 322.1,91.6 322.7,91.9 323.3,92.1 323.9,92.2 324.5,92.7 325.1,93.6 325.7,93.8 326.3,92.8 326.9,92.2 327.5,93.3 328.1,93.5 328.7,91.6 329.3,90.4 329.9,89.9 330.5,89.6 331.1,89.1 331.7,88.6 332.3,89.4 332.9,89.6 333.5,88.6 334.1,88.0 334.7,87.2 335.3,87.0 335.9,87.9 336.5,87.9 337.1,87.4 337.7,88.1 338.3,88.3 338.9,87.1 339.5,86.5 340.1,87.6 340.7,88.5 341.3,88.7 341.9,88.8 342.5,89.1 343.1,89.6 343.7,90.2 344.3,90.9 344.9,91.7 345.5,91.9 346.1,91.7 346.7,91.1 347.3,91.1 347.9,91.9 348.5,92.5 349.1,92.7 349.7,93.1 350.3,93.3 350.9,93.5 351.5,93.8 352.1,94.4 352.7,94.9 353.3,94.2 353.9,93.2 354.5,92.8 355.1,92.5 355.7,92.3 356.3,91.2 356.9,89.1 357.5,88.6 358.1,89.6 358.7,90.4 359.3,90.2 359.9,90.7 360.5,91.4 361.1,91.0 361.7,91.0 362.3,91.4 362.9,91.4 363.5,91.3 364.1,91.4 364.7,91.3 365.3,91.5 365.9,91.8 366.5,91.3 367.1,91.4 367.7,91.3 368.3,90.7 368.9,90.3 369.5,90.4 370.1,90.0 370.7,89.4 371.3,88.9 371.9,88.3 372.5,88.1 373.1,88.4 373.7,88.9 374.3,89.0 374.9,88.3 375.5,87.7 376.1,87.4 376.7,86.5 377.3,84.8 377.9,84.1 378.5,84.3 379.1,84.2 379.7,84.4 380.3,84.0 380.9,82.6 381.5,82.0 382.1,82.2 382.7,82.1 383.3,82.2 383.9,82.8 384.5,83.5 385.1,84.9 385.7,86.5 386.3,86.9 386.9,86.3 387.5,86.1 388.1,86.7 388.7,87.5 389.3,87.7 389.9,86.9 390.5,86.6 391.1,86.6 391.7,86.4 392.3,87.2 392.9,87.5 393.5,87.4 394.1,88.2 394.7,88.1 395.3,88.2 395.9,88.7 396.5,88.0 397.1,87.3 397.7,87.4 398.3,87.7 398.9,88.2 399.5,88.7 400.1,89.3 400.7,89.4 401.3,89.5 401.9,89.6 402.5,89.3 403.1,90.1 403.7,91.6 404.3,92.5 404.9,92.6 405.5,93.0 406.1,93.4 406.7,93.7 407.3,94.3 407.9,94.4 408.5,95.4 409.1,97.4 409.7,98.0 410.3,98.7 410.9,100.1 411.5,100.6 412.1,100.5 412.7,100.9 413.3,100.7 413.9,100.2 414.5,99.7 415.1,98.4 415.7,96.8 416.3,96.3 416.9,95.8 417.5,94.7 418.1,93.7 418.7,93.0 419.3,91.8 419.9,91.1 420.5,90.7 421.1,89.7 421.7,88.4 422.3,87.0 422.9,86.0 423.5,84.8 424.1,83.0 424.7,81.8 425.3,81.3 425.9,81.0 426.5,81.0 427.1,82.1 427.7,83.5 428.3,84.0 428.9,84.0 429.5,84.3 430.1,85.2 430.7,85.9 431.3,86.2 431.9,86.2 432.5,85.5 433.1,85.0 433.7,85.2 434.3,86.0 434.9,86.4 435.5,86.2 436.1,86.6 436.7,87.4 437.3,87.8 437.9,88.8 438.5,88.8 439.1,87.8 439.7,87.6 440.3,87.7 440.9,87.2 441.5,87.6 442.1,89.1 442.7,89.7 443.3,89.4 443.9,89.1 444.5,88.9 445.1,89.4 445.7,90.4 446.3,90.5 446.9,89.6 447.5,88.9 448.1,89.2 448.7,89.8 449.3,90.1 449.9,90.8 450.5,90.7 451.1,90.7 451.7,91.8 452.3,91.9 452.9,91.5 453.5,92.0 454.1,92.6 454.7,93.1 455.3,93.1 455.9,93.1 456.5,93.0 457.1,92.5 457.7,93.2 458.3,94.3 458.9,94.0 459.5,93.4 460.1,93.9 460.7,94.1 461.3,93.0 461.9,92.7 462.5,93.1 463.1,92.6 463.7,92.2 464.3,91.8 464.9,90.7 465.5,89.6 466.1,87.8 466.7,86.6 467.3,87.6 467.9,88.2 468.5,88.3 469.1,88.9 469.7,89.1 470.3,89.1 470.9,88.8 471.5,88.7 472.1,89.7 472.7,90.7 473.3,91.0 473.9,91.3 474.5,91.5 475.1,91.6 475.7,91.3 476.3,90.4 476.9,89.7 477.5,90.0 478.1,90.0 478.7,89.4 479.3,89.7 479.9,90.0 480.5,89.9 481.1,90.1 481.7,89.6 482.3,89.0 482.9,89.0 483.5,88.9 484.1,88.5 484.7,87.9 485.3,87.6 485.9,87.8 486.5,88.1 487.1,88.2 487.7,88.6 488.3,88.7 488.9,88.4 489.5,88.6 490.1,88.8 490.7,88.3 491.3,88.5 491.9,89.3 492.5,89.3 493.1,88.9 493.7,88.1 494.3,87.6 494.9,87.6 495.5,88.1 496.1,90.0 496.7,90.9 497.3,90.7 497.9,91.2 498.5,91.4 499.1,91.7 499.7,92.4 500.3,92.2 500.9,92.6 501.5,93.3 502.1,93.3 502.7,93.2 503.3,93.2 503.9,93.9 504.5,94.6 505.1,94.8 505.7,95.4 506.3,96.3 506.9,97.0 507.5,97.2 508.1,96.4 508.7,95.6 509.3,95.9 509.9,96.2 510.5,95.2 511.1,94.3 511.7,94.2 512.3,93.9 512.9,93.7 513.5,94.1 514.1,94.2 514.7,93.8 515.3,92.4 515.9,91.2 516.5,91.2 517.1,91.1 517.7,90.4 518.3,89.6 518.9,89.2 519.5,89.2 520.1,89.2 520.7,88.8 521.3,88.1 521.9,87.3 522.5,86.6 523.1,86.2 523.7,86.0 524.3,85.7 524.9,85.6 525.5,86.2 526.1,86.3 526.7,86.6 527.3,86.5 527.9,85.7 528.5,86.5 529.1,88.1 529.7,88.8 530.3,88.7 530.9,88.5 531.5,88.9 532.1,90.4 532.7,91.1 533.3,90.6 533.9,90.7 534.5,91.1 535.1,90.6 535.7,90.8 536.3,91.7 536.9,92.3 537.5,92.9 538.1,93.4 538.7,94.5 539.3,95.1 539.9,94.3 540.5,94.1 541.1,95.0 541.7,95.7 542.3,96.3 542.9,97.9 543.5,99.7 544.1,100.8 544.7,100.8 545.3,99.5 545.9,98.8 546.5,98.2 547.1,97.3 547.7,95.9 548.3,94.7 548.9,95.0 549.5,95.2 550.1,94.7 550.7,93.0 551.3,91.3 551.9,91.4 552.5,92.4 553.1,93.1 553.7,93.6 554.3,92.6 554.9,91.8 555.5,92.8 556.1,92.9 556.7,93.0 557.3,93.0 557.9,92.0 558.5,92.8 559.1,94.3 559.7,93.4 560.3,92.5 560.9,92.5 561.5,92.7 562.1,93.1 562.7,93.0 563.3,92.8 563.9,93.6 564.5,94.0 565.1,93.6 565.7,94.6"/>
<path d="M25.6,105.7 26.2,105.4 26.9,105.6 27.5,106.8 28.1,108.4 28.7,109.2 29.3,109.4 29.9,109.1 30.5,109.3 31.1,109.7 31.7,109.2 32.3,108.5 32.9,108.2 33.5,108.5 34.1,108.9 34.7,108.5 35.3,108.0 35.9,108.0 36.5,108.1 37.1,107.6 37.7,106.5 38.3,106.7 38.9,107.5 39.5,107.3 40.1,106.9 40.7,106.2 41.3,105.6 41.9,106.2 42.5,107.0 43.1,107.3 43.7,107.6 44.3,107.3 44.9,106.3 45.5,106.5 46.1,107.8 46.7,108.8 47.3,108.2 47.9,107.4 48.5,108.1 49.1,108.7 49.7,108.9 50.3,109.0 50.9,108.8 51.5,109.4 52.1,109.5 52.7,109.5 53.3,110.0 53.9,109.7 54.5,109.3 55.1,109.6 55.7,110.3 56.3,110.3 56.9,110.2 57.5,110.5 58.1,110.2 58.7,110.0 59.3,110.0 59.9,109.4 60.5,108.9 61.1,108.9 61.7,108.6 62.3,107.9 62.9,107.7 63.5,107.8 64.1,107.5 64.7,107.0 65.3,106.2 65.9,105.4 66.5,105.8 67.1,107.0 67.7,107.2 68.3,106.9 68.9,106.4 69.5,105.8 70.1,105.4 70.7,104.5 71.3,104.0 71.9,104.1 72.5,103.8 73.1,104.3 73.7,105.1 74.3,105.4 74.9,106.3 75.5,106.9 76.1,106.7 76.7,106.5 77.3,106.2 77.9,106.7 78.5,107.4 79.1,107.0 79.7,106.9 80.3,108.3 80.9,108.7 81.5,107.8 82.1,107.7 82.7,107.8 83.3,107.2 83.9,107.2 84.5,107.7 85.1,107.9 85.7,107.6 86.3,106.7 86.9,106.5 87.5,107.0 88.1,107.5 88.7,107.5 89.3,106.6 89.9,105.7 90.5,106.4 91.1,107.3 91.7,106.9 92.3,106.6 92.9,106.7 93.5,107.2 94.1,107.1 94.7,106.2 95.3,106.7 95.9,107.3 96.5,106.4 97.1,105.9 97.7,106.5 98.3,106.3 98.9,106.0 99.5,106.6 100.1,106.9 100.7,107.1 101.3,107.5 101.9,107.9 102.5,108.3 103.1,108.0 103.7,107.7 104.3,107.6 104.9,107.7 105.5,107.4 106.1,107.3 106.7,107.6 107.3,107.6 107.9,107.9 108.5,107.6 109.1,106.9 109.7,106.7 110.3,106.6 110.9,106.2 111.5,106.0 112.1,106.3 112.7,106.4 113.3,106.3 113.9,105.8 114.5,105.9 115.1,106.2 115.7,105.8 116.3,106.3 116.9,107.1 117.5,106.7 118.1,106.1 118.7,106.2 119.3,106.7 119.9,106.3 120.5,106.3 121.1,107.0 121.7,106.8 122.3,106.5 122.9,107.4 123.5,108.3 124.1,108.6 124.7,108.9 125.3,109.3 125.9,109.5 126.5,109.5 127.1,109.4 127.7,109.3 128.3,109.3 128.9,109.6 129.5,109.7 130.1,110.0 130.7,110.0 131.3,108.7 131.9,107.9 132.5,107.9 133.1,107.6 133.7,107.1 134.3,106.4 134.9,105.4 135.5,104.4 136.1,104.1 136.7,104.5 137.3,104.4 137.9,104.7 138.5,106.2 139.1,106.8 139.7,106.1 140.3,105.9 140.9,106.6 141.5,107.3 142.1,107.9 142.7,108.9 143.3,108.8 143.9,108.2 144.5,108.0 145.1,108.1 145.7,108.9 146.3,109.8 146.9,109.2 147.5,108.2 148.1,108.5 148.7,108.7 149.3,108.5 149.9,108.4 150.5,108.7 151.1,109.0 151.7,108.9 152.3,108.7 152.9,108.3 153.5,108.0 154.1,107.9 154.7,108.1 155.3,108.7 155.9,109.3 156.5,109.8 157.1,109.9 157.7,109.6 158.3,109.4 158.9,110.8 159.5,112.7 160.1,114.0 160.7,114.9 161.3,115.3 161.9,115.5 162.5,115.1 163.1,114.8 163.7,115.0 164.3,114.7 164.9,113.8 165.5,112.7 166.1,112.2 166.7,112.3 167.3,112.0 167.9,111.9 168.5,111.1 169.1,109.1 169.7,107.4 170.3,105.7 170.9,103.9 171.5,103.0 172.1,102.3 172.7,101.6 173.3,101.9 173.9,101.6 174.5,100.2 175.1,99.8 175.7,100.3 176.3,101.2 176.9,101.4 177.5,100.8 178.1,100.1 178.7,99.7 179.3,99.9 179.9,100.1 180.5,99.5 181.1,99.3 181.7,99.8 182.3,99.8 182.9,99.7 183.5,99.5 184.1,99.5 184.7,100.4 185.3,101.2 185.9,101.4 186.5,100.9 187.1,101.1 187.7,102.0 188.3,102.4 188.9,103.0 189.5,103.6 190.1,103.9 190.7,105.1 191.3,106.3 191.9,106.1 192.5,105.7 193.1,105.8 193.7,105.8 194.3,106.4 194.9,106.7 195.5,106.1 196.1,106.0 196.7,106.1 197.3,106.1 197.9,106.8 198.5,106.4 199.1,105.8 199.7,106.2 200.3,105.9 200.9,105.5 201.5,105.9 202.1,106.8 202.7,106.8 203.3,106.4 203.9,106.7 204.5,107.2 205.1,107.7 205.7,108.5 206.3,108.9 206.9,108.9 207.5,108.5 208.1,109.0 208.7,109.6 209.3,109.5 209.9,109.3 210.5,109.0 211.1,109.9 211.7,111.0 212.3,110.8 212.9,110.5 213.5,110.7 214.1,110.7 214.7,111.1 215.3,111.3 215.9,111.4 216.5,112.0 217.1,112.0 217.7,111.6 218.3,112.1 218.9,113.2 219.5,113.2 220.1,112.5 220.7,112.1 221.3,111.6 221.9,111.4 222.5,111.9 223.1,112.9 223.7,113.1 224.3,111.8 224.9,110.6 225.5,110.0 226.1,110.4 226.7,111.2 227.3,111.5 227.9,111.4 228.5,110.4 229.1,109.4 229.7,109.4 230.3,109.1 230.9,107.6 231.5,107.2 232.1,108.4 232.7,108.2 233.3,106.8 233.9,106.1 234.5,105.9 235.1,106.4 235.7,107.1 236.3,107.3 236.9,107.3 237.5,106.9 238.1,107.3 238.7,108.1 239.3,108.2 239.9,108.3 240.5,108.0 241.1,106.1 241.7,105.0 242.3,105.0 242.9,104.2 243.5,103.1 244.1,101.5 244.7,100.0 245.3,99.9 245.9,99.9 246.5,99.9 247.1,100.2 247.7,101.0 248.3,101.5 248.9,101.8 249.5,103.0 250.1,103.7 250.7,103.4 251.3,103.4 251.9,103.1 252.5,102.7 253.1,103.3 253.7,104.2 254.3,104.1 254.9,104.1 255.5,104.7 256.1,104.8 256.7,104.4 257.3,103.8 257.9,104.1 258.5,105.1 259.1,105.8 259.7,106.0 260.3,105.7 260.9,105.8 261.5,106.3 262.1,106.0 262.7,105.3 263.3,105.4 263.9,106.5 264.5,107.5 265.1,107.4 265.7,107.2 266.3,107.9 266.9,107.7 267.5,107.1 268.1,107.7 268.7,108.5 269.3,108.5 269.9,107.8 270.5,107.4 271.1,108.6 271.7,109.7 272.3,109.0 272.9,108.1 273.5,107.7 274.1,107.5 274.7,108.2 275.3,108.8 275.9,108.4 276.5,108.4 277.1,109.2 277.7,109.8 278.3,110.0 278.9,110.8 279.5,112.5 280.1,113.1 280.7,112.3 281.3,111.7 281.9,111.3 282.5,110.7 283.1,110.7 283.7,111.8 284.3,112.9 284.9,113.5 285.5,113.1 286.1,112.7 286.7,113.3 287.3,113.9 287.9,114.3 288.5,114.3 289.1,114.1 289.7,113.8 290.3,113.1 290.9,112.6 291.5,112.5 292.1,111.6 292.7,110.5 293.3,110.7 293.9,110.2 294.5,109.3 295.1,108.8 295.7,108.5 296.3,108.1 296.9,106.8 297.5,106.1 298.1,105.8 298.7,105.4 299.3,105.6 299.9,105.6 300.5,105.6 301.1,104.9 301.7,103.7 302.3,103.3 302.9,103.3 303.5,102.5 304.1,102.0 304.7,102.7 305.3,103.1 305.9,102.8 306.5,102.4 307.1,101.7 307.7,101.5 308.3,101.5 308.9,101.5 309.5,101.9 310.1,102.5 310.7,102.6 311.3,102.7 311.9,102.8 312.5,102.1 313.1,101.8 313.7,101.9 314.3,102.1 314.9,102.7 315.5,102.9 316.1,103.2 316.7,103.6 317.3,103.9 317.9,105.0 318.5,105.8 319.1,106.3 319.7,106.8 320.3,106.9 320.9,107.4 321.5,108.0 322.1,108.1 322.7,108.4 323.3,108.8 323.9,108.5 324.5,107.4 325.1,106.0 325.7,105.7 326.3,105.4 326.9,104.5 327.5,104.0 328.1,104.5 328.7,104.9 329.3,104.5 329.9,104.4 330.5,104.7 331.1,104.2 331.7,104.1 332.3,105.0 332.9,105.0 333.5,104.1 334.1,103.4 334.7,103.2 335.3,103.2 335.9,103.9 336.5,105.2 337.1,105.5 337.7,104.7 338.3,104.4 338.9,104.5 339.5,104.0 340.1,103.0 340.7,102.2 341.3,102.2 341.9,103.1 342.5,103.6 343.1,103.8 343.7,103.9 344.3,103.8 344.9,103.2 345.5,103.4 346.1,104.3 346.7,104.5 347.3,105.1 347.9,105.8 348.5,105.6 349.1,105.6 349.7,106.0 350.3,106.5 350.9,106.6 351.5,106.7 352.1,107.1 352.7,107.4 353.3,108.1 353.9,108.5 354.5,108.1 355.1,107.0 355.7,106.4 356.3,106.6 356.9,106.4 357.5,105.8 358.1,105.3 358.7,105.6 359.3,106.2 359.9,106.4 360.5,107.1 361.1,108.3 361.7,108.6 362.3,108.4 362.9,108.4 363.5,107.6 364.1,107.2 364.7,107.7 365.3,107.8 365.9,108.0 366.5,107.6 367.1,106.5 367.7,106.5 368.3,107.0 368.9,107.0 369.5,106.7 370.1,106.8 370.7,107.3 371.3,107.4 371.9,107.4 372.5,107.8 373.1,107.5 373.7,107.4 374.3,108.2 374.9,108.3 375.5,107.7 376.1,107.8 376.7,107.8 377.3,107.4 377.9,107.4 378.5,108.0 379.1,108.3 379.7,108.2 380.3,108.4 380.9,108.5 381.5,108.2 382.1,107.3 382.7,106.3 383.3,106.1 383.9,105.5 384.5,104.6 385.1,104.9 385.7,105.6 386.3,105.9 386.9,106.1 387.5,106.0 388.1,106.3 388.7,106.4 389.3,106.1 389.9,106.1 390.5,106.8 391.1,107.8 391.7,107.4 392.3,106.8 392.9,107.0 393.5,106.5 394.1,106.1 394.7,106.5 395.3,106.3 395.9,105.8 396.5,105.5 397.1,105.3 397.7,104.9 398.3,104.5 398.9,104.4 399.5,104.3 400.1,104.2 400.7,104.8 401.3,105.9 401.9,106.3 402.5,105.6 403.1,105.1 403.7,105.2 404.3,105.9 404.9,106.2 405.5,105.6 406.1,105.0 406.7,105.1 407.3,105.7 407.9,106.3 408.5,105.9 409.1,104.7 409.7,104.7 410.3,105.2 410.9,105.1 411.5,105.0 412.1,105.0 412.7,105.8 413.3,107.1 413.9,107.3 414.5,106.6 415.1,107.0 415.7,108.1 416.3,108.5 416.9,108.4 417.5,108.1 418.1,107.4 418.7,106.9 419.3,107.3 419.9,108.0 420.5,108.3 421.1,108.7 421.7,108.8 422.3,108.5 422.9,107.7 423.5,106.7 424.1,106.7 424.7,107.0 425.3,106.5 425.9,106.0 426.5,105.8 427.1,105.8 427.7,106.2 428.3,106.1 428.9,105.6 429.5,105.5 430.1,105.5 430.7,105.3 431.3,104.7 431.9,104.4 432.5,103.8 433.1,102.9 433.7,102.4 434.3,102.7 434.9,103.4 435.5,103.8 436.1,104.8 436.7,106.0 437.3,105.9 437.9,105.6 438.5,105.3 439.1,105.4 439.7,106.4 440.3,106.7 440.9,106.2 441.5,106.3 442.1,106.9 442.7,107.4 443.3,108.2 443.9,107.9 444.5,106.3 445.1,104.9 445.7,103.7 446.3,102.8 446.9,103.6 447.5,104.1 448.1,103.5 448.7,104.3 449.3,105.6 449.9,105.8 450.5,106.2 451.1,106.9 451.7,107.1 452.3,106.9 452.9,106.7 453.5,106.5 454.1,106.2 454.7,106.1 455.3,107.0 455.9,108.2 456.5,108.3 457.1,107.9 457.7,108.0 458.3,107.5 458.9,107.2 459.5,108.0 460.1,108.3 460.7,108.2 461.3,108.4 461.9,108.8 462.5,108.6 463.1,108.1 463.7,108.6 464.3,109.7 464.9,108.8 465.5,107.4 466.1,107.3 466.7,107.5 467.3,106.9 467.9,106.0 468.5,106.3 469.1,107.2 469.7,107.7 470.3,107.8 470.9,107.2 471.5,107.3 472.1,108.0 472.7,107.7 473.3,107.9 473.9,108.6 474.5,108.8 475.1,109.1 475.7,109.2 476.3,109.2 476.9,109.1 477.5,108.2 478.1,107.5 478.7,108.2 479.3,108.5 479.9,108.1 480.5,107.6 481.1,106.9 481.7,106.5 482.3,106.4 482.9,105.8 483.5,105.5 484.1,104.9 484.7,104.1 485.3,103.9 485.9,104.3 486.5,104.8 487.1,105.0 487.7,105.1 488.3,105.0 488.9,104.5 489.5,104.0 490.1,104.0 490.7,104.6 491.3,105.0 491.9,105.1 492.5,105.0 493.1,104.1 493.7,103.8 494.3,104.9 494.9,106.2 495.5,106.3 496.1,106.2 496.7,106.6 497.3,107.2 497.9,107.6 498.5,108.0 499.1,108.2 499.7,107.8 500.3,106.8 500.9,106.9 501.5,107.1 502.1,106.6 502.7,107.0 503.3,107.9 503.9,108.3 504.5,108.1 505.1,108.0 505.7,108.4 506.3,108.6 506.9,108.7 507.5,108.8 508.1,108.9 508.7,108.5 509.3,107.7 509.9,107.5 510.5,108.1 511.1,108.3 511.7,107.9 512.3,108.1 512.9,108.4 513.5,108.4 514.1,108.5 514.7,108.3 515.3,107.6 515.9,107.0 516.5,107.2 517.1,108.1 517.7,108.9 518.3,108.9 518.9,108.5 519.5,107.9 520.1,107.4 520.7,107.1 521.3,106.4 521.9,105.7 522.5,105.5 523.1,105.7 523.7,106.6 524.3,107.4 524.9,107.8 525.5,108.2 526.1,108.7 526.7,107.9 527.3,107.1 527.9,107.0 528.5,106.9 529.1,106.8 529.7,106.0 530.3,106.3 530.9,107.6 531.5,107.5 532.1,106.4 532.7,105.5 533.3,105.2 533.9,105.7 534.5,106.3 535.1,106.2 535.7,106.2 536.3,107.3 536.9,108.1 537.5,107.7 538.1,106.9 538.7,106.7 539.3,107.0 539.9,106.8 540.5,106.9 541.1,107.6 541.7,107.1 542.3,106.6 542.9,107.4 543.5,108.1 544.1,108.1 544.7,107.5 545.3,107.0 545.9,107.0 546.5,107.0 547.1,106.4 547.7,105.9 548.3,106.2 548.9,106.7 549.5,107.2 550.1,106.8 550.7,106.3 551.3,106.6 551.9,106.7 552.5,106.4 553.1,105.8 553.7,105.3 554.3,105.3 554.9,105.5 555.5,106.2 556.1,106.3 556.7,104.9 557.3,104.3 557.9,105.1 558.5,105.8 559.1,106.1 559.7,105.9 560.3,106.3 560.9,107.2 561.5,106.2 562.1,104.7 562.7,104.2 563.3,103.9 563.9,103.8 564.5,103.6 565.1,103.1 565.7,103.0"/>
<path d="M25.6,125.7 26.2,126.3 26.9,126.4 27.5,125.9 28.1,125.5 28.7,124.2 29.3,123.3 29.9,122.9 30.5,122.1 31.1,120.8 31.7,120.3 32.3,121.1 32.9,120.9 33.5,119.9 34.1,119.8 34.7,119.9 35.3,119.6 35.9,119.7 36.5,120.5 37.1,120.6 37.7,120.2 38.3,119.8 38.9,119.6 39.5,119.4 40.1,119.4 40.7,119.0 41.3,119.3 41.9,120.3 42.5,120.2 43.1,120.1 43.7,121.4 44.3,122.5 44.9,122.2 45.5,121.8 46.1,122.7 46.7,123.6 47.3,123.1 47.9,123.0 48.5,124.1 49.1,125.6 49.7,126.5 50.3,127.4 50.9,128.2 51.5,128.7 52.1,129.4 52.7,129.7 53.3,129.9 53.9,130.2 54.5,129.3 55.1,127.3 55.7,126.8 56.3,127.7 56.9,127.1 57.5,126.5 58.1,126.9 58.7,126.8 59.3,126.1 59.9,125.2 60.5,123.8 61.1,122.4 61.7,122.3 62.3,122.9 62.9,122.6 63.5,122.3 64.1,121.7 64.7,121.0 65.3,121.0 65.9,119.5 66.5,117.9 67.1,118.8 67.7,119.1 68.3,117.7 68.9,117.0 69.5,117.5 70.1,116.7 70.7,115.1 71.3,115.0 71.9,115.0 72.5,114.4 73.1,114.6 73.7,115.2 74.3,116.2 74.9,117.6 75.5,118.1 76.1,117.6 76.7,117.4 77.3,117.6 77.9,118.8 78.5,120.3 79.1,120.5 79.7,120.7 80.3,122.0 80.9,123.5 81.5,124.3 82.1,124.5 82.7,125.2 83.3,125.4 83.9,125.3 84.5,126.1 85.1,126.6 85.7,126.1 86.3,126.2 86.9,126.8 87.5,126.3 88.1,125.4 88.7,125.7 89.3,126.4 89.9,125.9 90.5,125.1 91.1,124.6 91.7,124.2 92.3,124.4 92.9,125.0 93.5,125.0 94.1,124.8 94.7,124.6 95.3,124.3 95.9,124.2 96.5,124.5 97.1,124.7 97.7,123.7 98.3,123.0 98.9,124.0 99.5,124.8 100.1,124.1 100.7,123.2 101.3,122.2 101.9,121.0 102.5,120.8 103.1,121.5 103.7,122.0 104.3,121.5 104.9,120.1 105.5,118.8 106.1,118.0 106.7,117.3 107.3,116.7 107.9,116.6 108.5,116.6 109.1,116.4 109.7,117.1 110.3,117.1 110.9,116.0 111.5,115.6 112.1,115.7 112.7,116.2 113.3,116.5 113.9,116.0 114.5,116.0 115.1,116.7 115.7,117.5 116.3,118.8 116.9,119.9 117.5,119.9 118.1,120.1 118.7,121.8 119.3,123.1 119.9,123.0 120.5,123.3 121.1,124.3 121.7,124.8 122.3,124.3 122.9,124.2 123.5,124.7 124.1,125.1 124.7,124.9 125.3,124.6 125.9,124.9 126.5,125.5 127.1,125.8 127.7,125.2 128.3,124.7 128.9,125.2 129.5,125.6 130.1,126.0 130.7,125.5 131.3,124.1 131.9,123.3 132.5,122.8 133.1,122.5 133.7,122.4 134.3,121.8 134.9,121.6 135.5,121.3 136.1,120.3 136.7,120.0 137.3,120.0 137.9,120.2 138.5,120.9 139.1,121.3 139.7,121.6 140.3,122.3 140.9,122.3 141.5,121.9 142.1,121.9 142.7,121.9 143.3,121.6 143.9,122.0 144.5,123.3 145.1,123.4 145.7,122.3 146.3,122.8 146.9,124.6 147.5,124.6 148.1,123.9 148.7,123.8 149.3,124.0 149.9,124.2 150.5,124.2 151.1,124.4 151.7,125.0 152.3,125.4 152.9,125.3 153.5,125.3 154.1,125.9 154.7,126.7 155.3,126.7 155.9,126.6 156.5,127.3 157.1,127.7 157.7,128.2 158.3,129.3 158.9,129.9 159.5,130.1 160.1,130.9 160.7,131.4 161.3,131.1 161.9,131.0 162.5,131.1 163.1,131.0 163.7,130.9 164.3,130.8 164.9,130.5 165.5,130.4 166.1,130.0 166.7,130.1 167.3,130.2 167.9,130.2 168.5,130.8 169.1,130.2 169.7,128.6 170.3,127.9 170.9,127.5 171.5,127.7 172.1,128.1 172.7,127.3 173.3,125.8 173.9,124.9 174.5,124.9 175.1,124.2 175.7,122.7 176.3,122.2 176.9,121.6 177.5,121.1 178.1,120.8 178.7,120.0 179.3,119.3 179.9,119.0 180.5,118.7 181.1,117.9 181.7,117.4 182.3,117.4 182.9,117.2 183.5,116.3 184.1,115.6 184.7,116.2 185.3,116.9 185.9,116.7 186.5,116.1 187.1,116.2 187.7,116.6 188.3,115.7 188.9,114.5 189.5,114.1 190.1,114.5 190.7,114.9 191.3,115.1 191.9,115.6 192.5,116.1 193.1,116.9 193.7,117.4 194.3,117.3 194.9,117.4 195.5,116.2 196.1,115.1 196.7,115.8 197.3,116.4 197.9,116.5 198.5,117.5 199.1,118.4 199.7,118.7 200.3,119.2 200.9,119.7 201.5,119.6 202.1,119.3 202.7,118.5 203.3,118.0 203.9,118.2 204.5,118.4 205.1,118.7 205.7,119.2 206.3,119.0 206.9,118.6 207.5,119.1 208.1,119.4 208.7,120.0 209.3,120.7 209.9,120.8 210.5,121.0 211.1,121.3 211.7,122.0 212.3,122.6 212.9,122.8 213.5,122.6 214.1,121.9 214.7,122.4 215.3,123.1 215.9,123.0 216.5,122.7 217.1,122.6 217.7,122.6 218.3,122.9 218.9,122.6 219.5,122.4 220.1,123.1 220.7,123.6 221.3,123.6 221.9,122.9 222.5,122.8 223.1,123.1 223.7,122.6 224.3,122.3 224.9,121.9 225.5,121.6 226.1,121.6 226.7,122.2 227.3,122.4 227.9,121.5 228.5,120.9 229.1,120.7 229.7,120.5 230.3,120.3 230.9,120.1 231.5,120.5 232.1,120.1 232.7,118.4 233.3,117.8 233.9,118.3 234.5,117.9 235.1,117.2 235.7,117.7 236.3,118.1 236.9,118.0 237.5,117.5 238.1,116.4 238.7,115.9 239.3,115.8 239.9,115.1 240.5,114.2 241.1,114.1 241.7,114.1 242.3,113.6 242.9,112.6 243.5,112.0 244.1,112.3 244.7,112.5 245.3,111.9 245.9,111.4 246.5,112.3 247.1,113.9 247.7,114.3 248.3,114.3 248.9,114.6 249.5,114.9 250.1,115.4 250.7,116.7 251.3,117.7 251.9,117.6 252.5,117.2 253.1,117.5 253.7,118.3 254.3,119.2 254.9,119.7 255.5,119.4 256.1,119.3 256.7,119.8 257.3,119.6 257.9,118.8 258.5,119.3 259.1,120.0 259.7,120.0 260.3,119.9 260.9,120.1 261.5,120.6 262.1,120.8 262.7,120.4 263.3,119.5 263.9,119.0 264.5,119.5 265.1,120.4 265.7,121.5 266.3,122.4 266.9,121.9 267.5,121.2 268.1,121.7 268.7,121.8 269.3,122.0 269.9,123.2 270.5,124.5 271.1,125.3 271.7,126.0 272.3,126.2 272.9,126.0 273.5,126.5 274.1,126.6 274.7,125.9 275.3,125.7 275.9,125.8 276.5,125.3 277.1,124.8 277.7,124.9 278.3,124.6 278.9,124.0 279.5,124.2 280.1,125.2 280.7,125.7 281.3,124.9 281.9,124.9 282.5,126.1 283.1,126.8 283.7,126.4 284.3,125.2 284.9,125.2 285.5,126.9 286.1,127.8 286.7,127.9 287.3,128.0 287.9,128.0 288.5,128.8 289.1,129.7 289.7,130.4 290.3,130.3 290.9,129.1 291.5,128.6 292.1,129.3 292.7,130.2 293.3,130.3 293.9,129.6 294.5,129.4 295.1,129.3 295.7,129.6 296.3,130.4 296.9,130.8 297.5,131.5 298.1,132.3 298.7,132.7 299.3,132.9 299.9,132.0 300.5,130.4 301.1,129.1 301.7,128.6 302.3,128.1 302.9,126.8 303.5,125.1 304.1,123.4 304.7,122.4 305.3,121.7 305.9,119.5 306.5,116.9 307.1,116.1 307.7,115.9 308.3,115.1 308.9,113.4 309.5,112.5 310.1,113.2 310.7,113.7 311.3,114.3 311.9,114.6 312.5,114.0 313.1,113.9 313.7,114.2 314.3,114.4 314.9,114.8 315.5,115.8 316.1,117.2 316.7,117.1 317.3,116.1 317.9,116.3 318.5,117.6 319.1,118.4 319.7,117.8 320.3,118.1 320.9,119.5 321.5,120.2 322.1,120.7 322.7,121.4 323.3,121.4 323.9,121.4 324.5,121.9 325.1,123.2 325.7,123.9 326.3,123.4 326.9,123.1 327.5,123.2 328.1,122.6 328.7,121.9 329.3,121.5 329.9,120.7 330.5,119.2 331.1,118.2 331.7,118.5 332.3,118.8 332.9,119.3 333.5,119.2 334.1,118.5 334.7,118.5 335.3,118.5 335.9,118.6 336.5,119.4 337.1,119.6 337.7,119.2 338.3,119.4 338.9,120.3 339.5,120.6 340.1,121.1 340.7,122.4 341.3,123.6 341.9,124.1 342.5,124.3 343.1,124.8 343.7,125.5 344.3,125.9 344.9,125.4 345.5,124.4 346.1,123.9 346.7,123.8 347.3,123.1 347.9,122.3 348.5,122.7 349.1,123.8 349.7,124.5 350.3,124.8 350.9,125.4 351.5,126.2 352.1,126.5 352.7,127.0 353.3,126.6 353.9,125.2 354.5,124.3 355.1,123.8 355.7,123.5 356.3,123.6 356.9,123.3 357.5,123.6 358.1,124.2 358.7,124.1 359.3,124.3 359.9,124.6 360.5,124.4 361.1,123.9 361.7,123.4 362.3,123.0 362.9,122.1 363.5,121.4 364.1,121.6 364.7,121.5 365.3,121.3 365.9,122.0 366.5,121.9 367.1,120.4 367.7,119.7 368.3,119.7 368.9,120.0 369.5,120.4 370.1,120.4 370.7,120.2 371.3,120.1 371.9,120.5 372.5,121.0 373.1,120.3 373.7,120.2 374.3,121.8 374.9,123.3 375.5,124.1 376.1,124.1 376.7,123.1 377.3,122.1 377.9,121.9 378.5,122.5 379.1,122.4 379.7,122.4 380.3,122.8 380.9,122.5 381.5,122.3 382.1,122.6 382.7,122.9 383.3,123.0 383.9,123.7 384.5,123.9 385.1,123.5 385.7,123.2 386.3,122.7 386.9,123.1 387.5,123.9 388.1,124.3 388.7,125.4 389.3,126.2 389.9,125.8 390.5,124.9 391.1,124.0 391.7,123.6 392.3,123.7 392.9,123.6 393.5,123.5 394.1,124.3 394.7,124.6 395.3,124.5 395.9,125.2 396.5,126.1 397.1,126.1 397.7,125.3 398.3,124.4 398.9,123.4 399.5,122.9 400.1,123.4 400.7,123.7 401.3,123.5 401.9,122.8 402.5,122.7 403.1,122.8 403.7,122.9 404.3,123.4 404.9,123.1 405.5,122.1 406.1,122.1 406.7,122.4 407.3,122.6 407.9,122.8 408.5,122.1 409.1,121.6 409.7,122.4 410.3,122.8 410.9,122.8 411.5,123.6 412.1,123.3 412.7,122.8 413.3,123.9 413.9,124.9 414.5,124.1 415.1,123.7 415.7,124.0 416.3,124.0 416.9,124.5 417.5,124.6 418.1,123.4 418.7,122.7 419.3,123.2 419.9,123.2 420.5,122.9 421.1,123.2 421.7,122.4 422.3,121.5 422.9,121.7 423.5,121.4 424.1,121.2 424.7,121.4 425.3,120.7 425.9,120.0 426.5,119.6 427.1,119.5 427.7,119.7 428.3,120.0 428.9,120.3 429.5,119.8 430.1,118.7 430.7,118.6 431.3,118.9 431.9,118.9 432.5,119.4 433.1,120.1 433.7,120.2 434.3,120.0 434.9,119.6 435.5,118.9 436.1,118.6 436.7,119.2 437.3,120.2 437.9,120.6 438.5,120.5 439.1,120.6 439.7,120.8 440.3,121.6 440.9,123.0 441.5,123.9 442.1,124.1 442.7,123.5 443.3,122.6 443.9,122.6 444.5,122.1 445.1,121.5 445.7,120.9 446.3,120.2 446.9,119.3 447.5,119.0 448.1,119.8 448.7,120.7 449.3,121.1 449.9,121.5 450.5,122.2 451.1,122.5 451.7,122.4 452.3,122.4 452.9,123.0 453.5,123.5 454.1,123.0 454.7,123.0 455.3,123.6 455.9,123.7 456.5,123.9 457.1,124.0 457.7,123.2 458.3,122.8 458.9,122.8 459.5,122.7 460.1,123.4 460.7,123.7 461.3,123.7 461.9,123.8 462.5,123.3 463.1,122.8 463.7,122.9 464.3,123.3 464.9,122.8 465.5,122.3 466.1,122.9 466.7,123.4 467.3,123.8 467.9,123.9 468.5,123.9 469.1,123.7 469.7,123.3 470.3,123.3 470.9,123.2 471.5,123.4 472.1,124.4 472.7,124.7 473.3,124.1 473.9,123.4 474.5,123.0 475.1,123.0 475.7,123.2 476.3,123.2 476.9,122.8 477.5,122.4 478.1,122.2 478.7,122.5 479.3,122.9 479.9,122.6 480.5,122.6 481.1,123.0 481.7,122.3 482.3,122.2 482.9,123.4 483.5,124.2 484.1,123.7 484.7,122.8 485.3,122.1 485.9,121.5 486.5,121.7 487.1,121.7 487.7,121.4 488.3,121.6 488.9,121.5 489.5,121.3 490.1,121.3 490.7,121.0 491.3,121.1 491.9,121.9 492.5,121.6 493.1,120.2 493.7,119.7 494.3,120.0 494.9,120.5 495.5,121.0 496.1,120.9 496.7,120.8 497.3,121.3 497.9,121.3 498.5,121.3 499.1,121.8 499.7,122.3 500.3,122.4 500.9,122.4 501.5,122.7 502.1,122.4 502.7,122.0 503.3,122.5 503.9,124.0 504.5,125.4 505.1,125.0 505.7,124.1 506.3,124.1 506.9,124.1 507.5,124.7 508.1,125.6 508.7,124.9 509.3,124.2 509.9,124.5 510.5,124.1 511.1,123.7 511.7,123.6 512.3,123.6 512.9,123.7 513.5,123.6 514.1,123.8 514.7,123.6 515.3,122.8 515.9,122.7 516.5,122.9 517.1,123.2 517.7,122.8 518.3,121.7 518.9,121.8 519.5,122.2 520.1,122.1 520.7,122.7 521.3,123.3 521.9,122.8 522.5,122.2 523.1,122.1 523.7,122.0 524.3,122.4 524.9,123.1 525.5,123.5 526.1,122.4 526.7,121.0 527.3,121.6 527.9,122.9 528.5,122.9 529.1,122.6 529.7,122.3 530.3,121.5 530.9,121.1 531.5,121.6 532.1,122.4 532.7,123.2 533.3,123.8 533.9,123.6 534.5,123.5 535.1,123.7 535.7,123.8 536.3,124.2 536.9,124.6 537.5,124.8 538.1,125.1 538.7,125.4 539.3,125.4 539.9,126.0 540.5,127.1 541.1,127.6 541.7,127.8 542.3,129.0 542.9,130.0 543.5,130.4 544.1,131.1 544.7,131.5 545.3,131.0 545.9,130.5 546.5,131.3 547.1,132.3 547.7,132.6 548.3,132.8 548.9,132.3 549.5,131.4 550.1,130.3 550.7,128.7 551.3,129.3 551.9,129.5 552.5,127.8 553.1,126.4 553.7,126.8 554.3,123.0 554.9,123.2 555.5,124.4 556.1,126.6 556.7,118.7 557.3,123.9 557.9,121.8 558.5,122.3 559.1,121.1 559.7,121.4 560.3,121.0 560.9,117.7 561.5,114.2 562.1,114.8 562.7,117.2 563.3,117.3 563.9,117.0 564.5,114.6 565.1,115.6 565.7,113.8"/>
</g>
<path id="tk" d="M25.65,8.22 h4.2 M25.65,24.67 h4.2 M25.65,41.12 h4.2 M25.65,57.57 h4.2 M25.65,74.02 h4.2 M25.65,90.47 h4.2 M25.65,106.92 h4.2 M25.65,123.38 h4.2" fill="none"/>
</defs>
<text x="25.9" y="9.9" font-weight="bold">(a)</text>
<text x="296.3" y="11.9" text-anchor="middle">EEG input + annotations</text>
<rect x="26.50" y="18.00" width="250.30" height="131.60" fill="#d6dfbf" />
<rect x="423.19" y="18.00" width="143.01" height="131.60" fill="#d6dfbf" />
<rect x="279.00" y="18.00" width="124.10" height="32.10" fill="#e8bcbe" />
<path d="M26.0,18.0 V149.6 H567.75" fill="none" stroke="#808080" stroke-width="1.15"/>
<path d="M25.65,149.6 v-3.8 M206.35,149.6 v-3.8 M387.05,149.6 v-3.8 M567.75,149.6 v-3.8" stroke="#222" stroke-width="0.8" fill="none"/>
<g transform="translate(0,18.0)" clip-path="url(#cp)"><use href="#tr" stroke="#000" stroke-width="1.5" stroke-opacity="1"/><use href="#tk" stroke="#222" stroke-width="0.8" stroke-opacity="0.9"/></g>
<text x="22.4" y="30.9" text-anchor="end">Fp1</text>
<text x="22.4" y="47.4" text-anchor="end">Fp2</text>
<text x="22.4" y="63.8" text-anchor="end">C3</text>
<text x="22.4" y="80.3" text-anchor="end">C4</text>
<text x="22.4" y="96.7" text-anchor="end">T3</text>
<text x="22.4" y="113.2" text-anchor="end">T4</text>
<text x="22.4" y="129.6" text-anchor="end">O1</text>
<text x="22.4" y="146.1" text-anchor="end">O2</text>
<rect x="481.20" y="167.20" width="13.80" height="12.40" fill="#c54d55" stroke="#b23a46" stroke-width="0.8"/>
<rect x="481.20" y="182.40" width="13.80" height="13.00" fill="#90ac52" stroke="#7d9f3d" stroke-width="0.8"/>
<text x="506" y="178.6" font-size="12.5px">Artefact</text>
<text x="506" y="193.4" font-size="12.5px">Clean</text>
<text x="25.9" y="193.6" font-weight="bold">(b)</text>
<text x="296.3" y="196.5" text-anchor="middle">True output</text>
<rect x="25.65" y="202.05" width="252.98" height="131.60" fill="#90ac52" />
<rect x="423.19" y="202.05" width="144.56" height="131.60" fill="#90ac52" />
<rect x="278.63" y="202.05" width="126.49" height="32.90" fill="#c64f56" />
<path d="M43.72,202.05 v131.60 M61.79,202.05 v131.60 M79.86,202.05 v131.60 M97.93,202.05 v131.60 M116.00,202.05 v131.60 M134.07,202.05 v131.60 M152.14,202.05 v131.60 M170.21,202.05 v131.60 M188.28,202.05 v131.60 M206.35,202.05 v131.60 M224.42,202.05 v131.60 M242.49,202.05 v131.60 M260.56,202.05 v131.60 M278.63,202.05 v131.60 M296.70,202.05 v131.60 M314.77,202.05 v131.60 M332.84,202.05 v131.60 M350.91,202.05 v131.60 M368.98,202.05 v131.60 M387.05,202.05 v131.60 M405.12,202.05 v131.60 M423.19,202.05 v131.60 M441.26,202.05 v131.60 M459.33,202.05 v131.60 M477.40,202.05 v131.60 M495.47,202.05 v131.60 M513.54,202.05 v131.60 M531.61,202.05 v131.60 M549.68,202.05 v131.60 M25.65,218.50 H567.75 M25.65,234.95 H567.75 M25.65,251.40 H567.75 M25.65,267.85 H567.75 M25.65,284.30 H567.75 M25.65,300.75 H567.75 M25.65,317.20 H567.75" stroke="#424247" stroke-width="1.45" fill="none"/><path d="M43.72,202.05 v131.60 M61.79,202.05 v131.60 M79.86,202.05 v131.60 M97.93,202.05 v131.60 M116.00,202.05 v131.60 M134.07,202.05 v131.60 M152.14,202.05 v131.60 M170.21,202.05 v131.60 M188.28,202.05 v131.60 M206.35,202.05 v131.60 M224.42,202.05 v131.60 M242.49,202.05 v131.60 M260.56,202.05 v131.60 M278.63,202.05 v131.60 M296.70,202.05 v131.60 M314.77,202.05 v131.60 M332.84,202.05 v131.60 M350.91,202.05 v131.60 M368.98,202.05 v131.60 M387.05,202.05 v131.60 M405.12,202.05 v131.60 M423.19,202.05 v131.60 M441.26,202.05 v131.60 M459.33,202.05 v131.60 M477.40,202.05 v131.60 M495.47,202.05 v131.60 M513.54,202.05 v131.60 M531.61,202.05 v131.60 M549.68,202.05 v131.60 M25.65,218.50 H567.75 M25.65,234.95 H567.75 M25.65,251.40 H567.75 M25.65,267.85 H567.75 M25.65,284.30 H567.75 M25.65,300.75 H567.75 M25.65,317.20 H567.75" stroke="#404040" stroke-width="1.45" fill="none" clip-path="url(#cw)"/><rect x="25.65" y="202.05" width="542.10" height="131.60" fill="none" stroke="#424247" stroke-width="1.05"/>
<g transform="translate(0,202.05)" clip-path="url(#cp)"><use href="#tr" stroke="#000" stroke-width="1.15" stroke-opacity="0.55"/><use href="#tk" stroke="#222" stroke-width="0.8" stroke-opacity="0.9"/></g>
<text x="22.4" y="215.0" text-anchor="end">Fp1</text>
<text x="22.4" y="231.4" text-anchor="end">Fp2</text>
<text x="22.4" y="247.9" text-anchor="end">C3</text>
<text x="22.4" y="264.3" text-anchor="end">C4</text>
<text x="22.4" y="280.8" text-anchor="end">T3</text>
<text x="22.4" y="297.2" text-anchor="end">T4</text>
<text x="22.4" y="313.7" text-anchor="end">O1</text>
<text x="22.4" y="330.1" text-anchor="end">O2</text>
<text x="25.9" y="377.4" font-weight="bold">(c)</text>
<text x="296.3" y="380.5" text-anchor="middle">Predicted output</text>
<rect x="25.65" y="386.10" width="542.10" height="131.60" fill="#90ac52" />
<rect x="278.63" y="386.10" width="126.49" height="16.45" fill="#c64f56" />
<rect x="278.63" y="402.55" width="144.56" height="16.45" fill="#c64f56" />
<rect x="79.86" y="468.35" width="36.14" height="16.45" fill="#c64f56" />
<rect x="314.77" y="501.25" width="18.07" height="16.45" fill="#c64f56" />
<path d="M43.72,386.1 v131.60 M61.79,386.1 v131.60 M79.86,386.1 v131.60 M97.93,386.1 v131.60 M116.00,386.1 v131.60 M134.07,386.1 v131.60 M152.14,386.1 v131.60 M170.21,386.1 v131.60 M188.28,386.1 v131.60 M206.35,386.1 v131.60 M224.42,386.1 v131.60 M242.49,386.1 v131.60 M260.56,386.1 v131.60 M278.63,386.1 v131.60 M296.70,386.1 v131.60 M314.77,386.1 v131.60 M332.84,386.1 v131.60 M350.91,386.1 v131.60 M368.98,386.1 v131.60 M387.05,386.1 v131.60 M405.12,386.1 v131.60 M423.19,386.1 v131.60 M441.26,386.1 v131.60 M459.33,386.1 v131.60 M477.40,386.1 v131.60 M495.47,386.1 v131.60 M513.54,386.1 v131.60 M531.61,386.1 v131.60 M549.68,386.1 v131.60 M25.65,402.55 H567.75 M25.65,419.00 H567.75 M25.65,435.45 H567.75 M25.65,451.90 H567.75 M25.65,468.35 H567.75 M25.65,484.80 H567.75 M25.65,501.25 H567.75" stroke="#424247" stroke-width="1.45" fill="none"/><rect x="25.65" y="386.1" width="542.10" height="131.60" fill="none" stroke="#424247" stroke-width="1.05"/>
<g transform="translate(0,386.1)" clip-path="url(#cp)"><use href="#tr" stroke="#000" stroke-width="1.15" stroke-opacity="0.55"/><use href="#tk" stroke="#222" stroke-width="0.8" stroke-opacity="0.9"/></g>
<text x="22.4" y="399.0" text-anchor="end">Fp1</text>
<text x="22.4" y="415.5" text-anchor="end">Fp2</text>
<text x="22.4" y="431.9" text-anchor="end">C3</text>
<text x="22.4" y="448.4" text-anchor="end">C4</text>
<text x="22.4" y="464.8" text-anchor="end">T3</text>
<text x="22.4" y="481.3" text-anchor="end">T4</text>
<text x="22.4" y="497.7" text-anchor="end">O1</text>
<text x="22.4" y="514.2" text-anchor="end">O2</text>
<text x="26.0" y="529.8" text-anchor="middle">0</text>
<text x="206.3" y="529.8" text-anchor="middle">10</text>
<text x="387.0" y="529.8" text-anchor="middle">20</text>
<text x="568.1" y="529.8" text-anchor="middle">30</text>
<text x="296.6" y="535.6" text-anchor="middle">Time (s)</text>
</svg>
</body></html>
